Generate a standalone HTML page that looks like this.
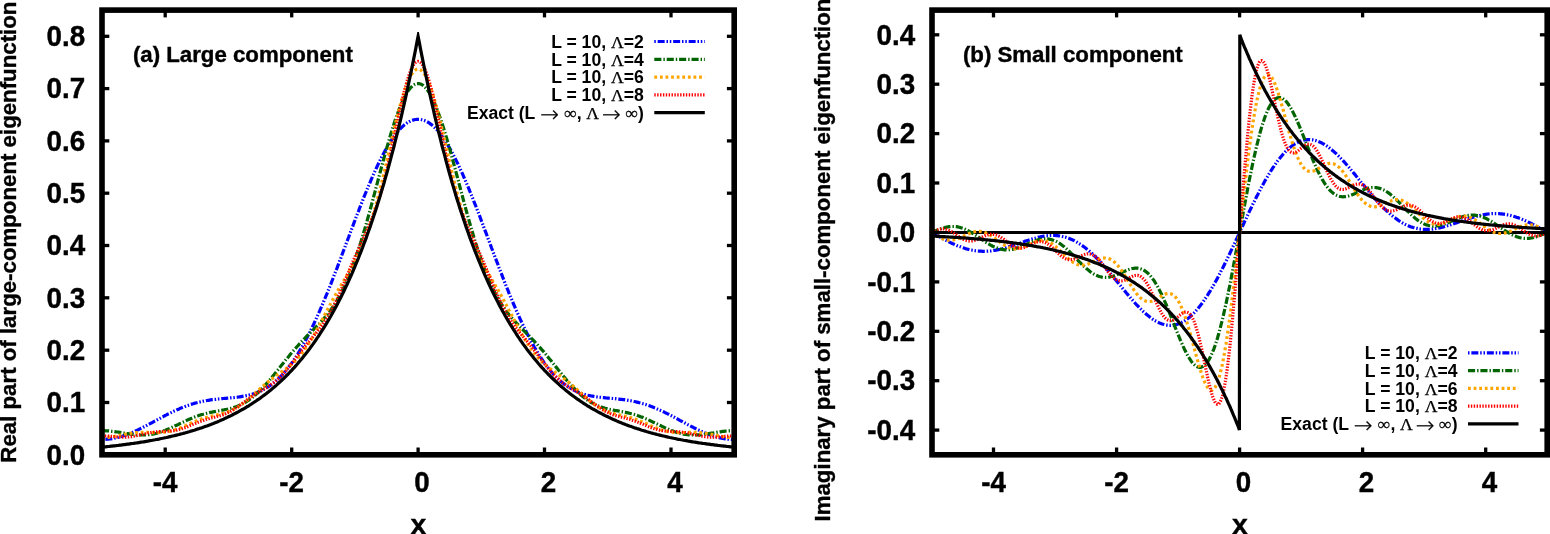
<!DOCTYPE html>
<html lang="en"><head><meta charset="utf-8"><title>Eigenfunctions</title>
<style>
html,body{margin:0;padding:0;background:#fff;}
body{width:1550px;height:534px;overflow:hidden;}
svg{display:block;}
text{font-family:"Liberation Sans",sans-serif;font-weight:bold;fill:#000;}
.sym{font-family:"Liberation Serif",serif;font-weight:normal;stroke:#000;stroke-width:0.25px;}
.tk{font-size:27.8px;stroke:#000;stroke-width:0.4px;}
.lg{font-size:17.6px;}
.tt{font-size:22.24px;stroke:#000;stroke-width:0.4px;}
.yl{font-size:22.25px;stroke:#000;stroke-width:0.35px;}
.xl{font-size:28.4px;stroke:#000;stroke-width:0.4px;}
.ar{font-family:"DejaVu Sans",sans-serif;font-weight:200;font-size:22.5px;stroke:#000;stroke-width:0.3px;}
.lam{font-size:17.6px;}
</style></head><body>
<svg width="1550" height="534" viewBox="0 0 1550 534">
<rect width="1550" height="534" fill="#fff"/>

<defs><clipPath id="clip_a"><rect x="102.0" y="10.1" width="632.2" height="444.7"/></clipPath></defs>
<g clip-path="url(#clip_a)" fill="none" stroke-width="3.2" stroke-linejoin="round">
<polyline stroke="#0000ff" stroke-dasharray="1.5 1.85 7 1.85 1.5 1.8" points="102.0,439.4 103.3,439.4 104.5,439.4 105.8,439.3 107.1,439.2 108.3,439.1 109.6,438.9 110.9,438.8 112.1,438.6 113.4,438.4 114.6,438.1 115.9,437.9 117.2,437.6 118.4,437.3 119.7,436.9 121.0,436.6 122.2,436.2 123.5,435.8 124.8,435.4 126.0,434.9 127.3,434.5 128.6,434.0 129.8,433.5 131.1,433.0 132.3,432.4 133.6,431.9 134.9,431.3 136.1,430.7 137.4,430.1 138.7,429.5 139.9,428.9 141.2,428.3 142.5,427.7 143.7,427.0 145.0,426.4 146.3,425.7 147.5,425.0 148.8,424.4 150.0,423.7 151.3,423.0 152.6,422.3 153.8,421.6 155.1,421.0 156.4,420.3 157.6,419.6 158.9,418.9 160.2,418.2 161.4,417.5 162.7,416.9 164.0,416.2 165.2,415.5 166.5,414.9 167.7,414.2 169.0,413.6 170.3,413.0 171.5,412.4 172.8,411.7 174.1,411.1 175.3,410.6 176.6,410.0 177.9,409.4 179.1,408.9 180.4,408.3 181.7,407.8 182.9,407.3 184.2,406.8 185.5,406.3 186.7,405.8 188.0,405.4 189.2,405.0 190.5,404.5 191.8,404.1 193.0,403.8 194.3,403.4 195.6,403.0 196.8,402.7 198.1,402.4 199.4,402.1 200.6,401.8 201.9,401.5 203.2,401.2 204.4,401.0 205.7,400.7 206.9,400.5 208.2,400.3 209.5,400.1 210.7,399.9 212.0,399.7 213.3,399.6 214.5,399.4 215.8,399.3 217.1,399.1 218.3,399.0 219.6,398.9 220.9,398.7 222.1,398.6 223.4,398.5 224.6,398.4 225.9,398.3 227.2,398.2 228.4,398.1 229.7,398.0 231.0,397.8 232.2,397.7 233.5,397.6 234.8,397.5 236.0,397.3 237.3,397.2 238.6,397.0 239.8,396.8 241.1,396.6 242.3,396.4 243.6,396.2 244.9,396.0 246.1,395.7 247.4,395.5 248.7,395.2 249.9,394.8 251.2,394.5 252.5,394.1 253.7,393.7 255.0,393.3 256.3,392.8 257.5,392.3 258.8,391.8 260.1,391.3 261.3,390.7 262.6,390.0 263.8,389.4 265.1,388.7 266.4,387.9 267.6,387.1 268.9,386.3 270.2,385.4 271.4,384.5 272.7,383.5 274.0,382.5 275.2,381.5 276.5,380.4 277.8,379.2 279.0,378.0 280.3,376.8 281.5,375.5 282.8,374.1 284.1,372.7 285.3,371.2 286.6,369.7 287.9,368.1 289.1,366.5 290.4,364.8 291.7,363.1 292.9,361.3 294.2,359.4 295.5,357.5 296.7,355.6 298.0,353.6 299.2,351.5 300.5,349.4 301.8,347.2 303.0,345.0 304.3,342.7 305.6,340.4 306.8,338.0 308.1,335.5 309.4,333.0 310.6,330.5 311.9,327.9 313.2,325.3 314.4,322.6 315.7,319.8 316.9,317.1 318.2,314.2 319.5,311.4 320.7,308.5 322.0,305.5 323.3,302.5 324.5,299.5 325.8,296.4 327.1,293.3 328.3,290.2 329.6,287.1 330.9,283.9 332.1,280.7 333.4,277.4 334.6,274.1 335.9,270.9 337.2,267.6 338.4,264.2 339.7,260.9 341.0,257.6 342.2,254.2 343.5,250.8 344.8,247.5 346.0,244.1 347.3,240.7 348.6,237.3 349.8,233.9 351.1,230.6 352.4,227.2 353.6,223.9 354.9,220.5 356.1,217.2 357.4,213.9 358.7,210.6 359.9,207.3 361.2,204.1 362.5,200.9 363.7,197.7 365.0,194.5 366.3,191.4 367.5,188.3 368.8,185.3 370.1,182.3 371.3,179.4 372.6,176.5 373.8,173.6 375.1,170.8 376.4,168.0 377.6,165.4 378.9,162.7 380.2,160.1 381.4,157.6 382.7,155.2 384.0,152.8 385.2,150.5 386.5,148.2 387.8,146.1 389.0,144.0 390.3,141.9 391.5,140.0 392.8,138.1 394.1,136.3 395.3,134.6 396.6,133.0 397.9,131.5 399.1,130.0 400.4,128.7 401.7,127.4 402.9,126.2 404.2,125.1 405.5,124.1 406.7,123.2 408.0,122.4 409.2,121.7 410.5,121.1 411.8,120.5 413.0,120.1 414.3,119.8 415.6,119.5 416.8,119.4 418.1,119.3 419.4,119.4 420.6,119.5 421.9,119.8 423.2,120.1 424.4,120.5 425.7,121.1 427.0,121.7 428.2,122.4 429.5,123.2 430.7,124.1 432.0,125.1 433.3,126.2 434.5,127.4 435.8,128.7 437.1,130.0 438.3,131.5 439.6,133.0 440.9,134.6 442.1,136.3 443.4,138.1 444.7,140.0 445.9,141.9 447.2,144.0 448.4,146.1 449.7,148.2 451.0,150.5 452.2,152.8 453.5,155.2 454.8,157.6 456.0,160.1 457.3,162.7 458.6,165.4 459.8,168.0 461.1,170.8 462.4,173.6 463.6,176.5 464.9,179.4 466.1,182.3 467.4,185.3 468.7,188.3 469.9,191.4 471.2,194.5 472.5,197.7 473.7,200.9 475.0,204.1 476.3,207.3 477.5,210.6 478.8,213.9 480.1,217.2 481.3,220.5 482.6,223.9 483.8,227.2 485.1,230.6 486.4,233.9 487.6,237.3 488.9,240.7 490.2,244.1 491.4,247.5 492.7,250.8 494.0,254.2 495.2,257.6 496.5,260.9 497.8,264.2 499.0,267.6 500.3,270.9 501.6,274.1 502.8,277.4 504.1,280.7 505.3,283.9 506.6,287.1 507.9,290.2 509.1,293.3 510.4,296.4 511.7,299.5 512.9,302.5 514.2,305.5 515.5,308.5 516.7,311.4 518.0,314.2 519.3,317.1 520.5,319.8 521.8,322.6 523.0,325.3 524.3,327.9 525.6,330.5 526.8,333.0 528.1,335.5 529.4,338.0 530.6,340.4 531.9,342.7 533.2,345.0 534.4,347.2 535.7,349.4 537.0,351.5 538.2,353.6 539.5,355.6 540.7,357.5 542.0,359.4 543.3,361.3 544.5,363.1 545.8,364.8 547.1,366.5 548.3,368.1 549.6,369.7 550.9,371.2 552.1,372.7 553.4,374.1 554.7,375.5 555.9,376.8 557.2,378.0 558.4,379.2 559.7,380.4 561.0,381.5 562.2,382.5 563.5,383.5 564.8,384.5 566.0,385.4 567.3,386.3 568.6,387.1 569.8,387.9 571.1,388.7 572.4,389.4 573.6,390.0 574.9,390.7 576.2,391.3 577.4,391.8 578.7,392.3 579.9,392.8 581.2,393.3 582.5,393.7 583.7,394.1 585.0,394.5 586.3,394.8 587.5,395.2 588.8,395.5 590.1,395.7 591.3,396.0 592.6,396.2 593.9,396.4 595.1,396.6 596.4,396.8 597.6,397.0 598.9,397.2 600.2,397.3 601.4,397.5 602.7,397.6 604.0,397.7 605.2,397.8 606.5,398.0 607.8,398.1 609.0,398.2 610.3,398.3 611.6,398.4 612.8,398.5 614.1,398.6 615.3,398.7 616.6,398.9 617.9,399.0 619.1,399.1 620.4,399.3 621.7,399.4 622.9,399.6 624.2,399.7 625.5,399.9 626.7,400.1 628.0,400.3 629.3,400.5 630.5,400.7 631.8,401.0 633.0,401.2 634.3,401.5 635.6,401.8 636.8,402.1 638.1,402.4 639.4,402.7 640.6,403.0 641.9,403.4 643.2,403.8 644.4,404.1 645.7,404.5 647.0,405.0 648.2,405.4 649.5,405.8 650.7,406.3 652.0,406.8 653.3,407.3 654.5,407.8 655.8,408.3 657.1,408.9 658.3,409.4 659.6,410.0 660.9,410.6 662.1,411.1 663.4,411.7 664.7,412.4 665.9,413.0 667.2,413.6 668.5,414.2 669.7,414.9 671.0,415.5 672.2,416.2 673.5,416.9 674.8,417.5 676.0,418.2 677.3,418.9 678.6,419.6 679.8,420.3 681.1,421.0 682.4,421.6 683.6,422.3 684.9,423.0 686.2,423.7 687.4,424.4 688.7,425.0 689.9,425.7 691.2,426.4 692.5,427.0 693.7,427.7 695.0,428.3 696.3,428.9 697.5,429.5 698.8,430.1 700.1,430.7 701.3,431.3 702.6,431.9 703.9,432.4 705.1,433.0 706.4,433.5 707.6,434.0 708.9,434.5 710.2,434.9 711.4,435.4 712.7,435.8 714.0,436.2 715.2,436.6 716.5,436.9 717.8,437.3 719.0,437.6 720.3,437.9 721.6,438.1 722.8,438.4 724.1,438.6 725.3,438.8 726.6,438.9 727.9,439.1 729.1,439.2 730.4,439.3 731.7,439.4 732.9,439.4 734.2,439.4"/>
<polyline stroke="#006400" stroke-dasharray="7.1 2 1.4 1.9" points="102.0,430.7 103.3,430.7 104.5,430.7 105.8,430.8 107.1,430.8 108.3,430.9 109.6,431.0 110.9,431.1 112.1,431.3 113.4,431.4 114.6,431.6 115.9,431.8 117.2,432.0 118.4,432.1 119.7,432.3 121.0,432.6 122.2,432.8 123.5,433.0 124.8,433.2 126.0,433.4 127.3,433.6 128.6,433.8 129.8,434.0 131.1,434.2 132.3,434.3 133.6,434.5 134.9,434.6 136.1,434.8 137.4,434.9 138.7,434.9 139.9,435.0 141.2,435.0 142.5,435.0 143.7,435.0 145.0,435.0 146.3,434.9 147.5,434.8 148.8,434.7 150.0,434.5 151.3,434.3 152.6,434.1 153.8,433.9 155.1,433.6 156.4,433.3 157.6,432.9 158.9,432.6 160.2,432.2 161.4,431.8 162.7,431.3 164.0,430.8 165.2,430.4 166.5,429.8 167.7,429.3 169.0,428.8 170.3,428.2 171.5,427.6 172.8,427.0 174.1,426.4 175.3,425.8 176.6,425.2 177.9,424.6 179.1,424.0 180.4,423.4 181.7,422.8 182.9,422.2 184.2,421.6 185.5,421.0 186.7,420.4 188.0,419.8 189.2,419.2 190.5,418.7 191.8,418.2 193.0,417.6 194.3,417.1 195.6,416.7 196.8,416.2 198.1,415.8 199.4,415.3 200.6,414.9 201.9,414.5 203.2,414.2 204.4,413.8 205.7,413.5 206.9,413.2 208.2,412.9 209.5,412.6 210.7,412.3 212.0,412.1 213.3,411.8 214.5,411.6 215.8,411.4 217.1,411.1 218.3,410.9 219.6,410.7 220.9,410.5 222.1,410.2 223.4,410.0 224.6,409.7 225.9,409.5 227.2,409.2 228.4,408.9 229.7,408.6 231.0,408.3 232.2,407.9 233.5,407.5 234.8,407.1 236.0,406.7 237.3,406.2 238.6,405.7 239.8,405.1 241.1,404.5 242.3,403.9 243.6,403.2 244.9,402.5 246.1,401.8 247.4,401.0 248.7,400.1 249.9,399.2 251.2,398.3 252.5,397.3 253.7,396.3 255.0,395.2 256.3,394.1 257.5,393.0 258.8,391.8 260.1,390.5 261.3,389.2 262.6,387.9 263.8,386.6 265.1,385.2 266.4,383.8 267.6,382.3 268.9,380.9 270.2,379.4 271.4,377.8 272.7,376.3 274.0,374.8 275.2,373.2 276.5,371.6 277.8,370.0 279.0,368.4 280.3,366.9 281.5,365.3 282.8,363.7 284.1,362.1 285.3,360.5 286.6,359.0 287.9,357.4 289.1,355.9 290.4,354.3 291.7,352.8 292.9,351.3 294.2,349.9 295.5,348.4 296.7,347.0 298.0,345.6 299.2,344.2 300.5,342.8 301.8,341.4 303.0,340.1 304.3,338.8 305.6,337.5 306.8,336.2 308.1,334.9 309.4,333.6 310.6,332.4 311.9,331.1 313.2,329.8 314.4,328.6 315.7,327.3 316.9,326.0 318.2,324.7 319.5,323.4 320.7,322.0 322.0,320.7 323.3,319.3 324.5,317.8 325.8,316.3 327.1,314.8 328.3,313.2 329.6,311.5 330.9,309.8 332.1,308.0 333.4,306.2 334.6,304.3 335.9,302.3 337.2,300.2 338.4,298.0 339.7,295.7 341.0,293.3 342.2,290.9 343.5,288.3 344.8,285.6 346.0,282.8 347.3,279.9 348.6,276.9 349.8,273.8 351.1,270.6 352.4,267.2 353.6,263.8 354.9,260.2 356.1,256.6 357.4,252.8 358.7,248.9 359.9,245.0 361.2,240.9 362.5,236.7 363.7,232.5 365.0,228.2 366.3,223.8 367.5,219.3 368.8,214.7 370.1,210.1 371.3,205.5 372.6,200.8 373.8,196.1 375.1,191.3 376.4,186.5 377.6,181.8 378.9,177.0 380.2,172.2 381.4,167.5 382.7,162.8 384.0,158.1 385.2,153.5 386.5,149.0 387.8,144.5 389.0,140.1 390.3,135.8 391.5,131.7 392.8,127.6 394.1,123.6 395.3,119.8 396.6,116.2 397.9,112.7 399.1,109.3 400.4,106.1 401.7,103.2 402.9,100.3 404.2,97.7 405.5,95.3 406.7,93.1 408.0,91.2 409.2,89.4 410.5,87.9 411.8,86.6 413.0,85.5 414.3,84.6 415.6,84.0 416.8,83.7 418.1,83.6 419.4,83.7 420.6,84.0 421.9,84.6 423.2,85.5 424.4,86.6 425.7,87.9 427.0,89.4 428.2,91.2 429.5,93.1 430.7,95.3 432.0,97.7 433.3,100.3 434.5,103.2 435.8,106.1 437.1,109.3 438.3,112.7 439.6,116.2 440.9,119.8 442.1,123.6 443.4,127.6 444.7,131.7 445.9,135.8 447.2,140.1 448.4,144.5 449.7,149.0 451.0,153.5 452.2,158.1 453.5,162.8 454.8,167.5 456.0,172.2 457.3,177.0 458.6,181.8 459.8,186.5 461.1,191.3 462.4,196.1 463.6,200.8 464.9,205.5 466.1,210.1 467.4,214.7 468.7,219.3 469.9,223.8 471.2,228.2 472.5,232.5 473.7,236.7 475.0,240.9 476.3,245.0 477.5,248.9 478.8,252.8 480.1,256.6 481.3,260.2 482.6,263.8 483.8,267.2 485.1,270.6 486.4,273.8 487.6,276.9 488.9,279.9 490.2,282.8 491.4,285.6 492.7,288.3 494.0,290.9 495.2,293.3 496.5,295.7 497.8,298.0 499.0,300.2 500.3,302.3 501.6,304.3 502.8,306.2 504.1,308.0 505.3,309.8 506.6,311.5 507.9,313.2 509.1,314.8 510.4,316.3 511.7,317.8 512.9,319.3 514.2,320.7 515.5,322.0 516.7,323.4 518.0,324.7 519.3,326.0 520.5,327.3 521.8,328.6 523.0,329.8 524.3,331.1 525.6,332.4 526.8,333.6 528.1,334.9 529.4,336.2 530.6,337.5 531.9,338.8 533.2,340.1 534.4,341.4 535.7,342.8 537.0,344.2 538.2,345.6 539.5,347.0 540.7,348.4 542.0,349.9 543.3,351.3 544.5,352.8 545.8,354.3 547.1,355.9 548.3,357.4 549.6,359.0 550.9,360.5 552.1,362.1 553.4,363.7 554.7,365.3 555.9,366.9 557.2,368.4 558.4,370.0 559.7,371.6 561.0,373.2 562.2,374.8 563.5,376.3 564.8,377.8 566.0,379.4 567.3,380.9 568.6,382.3 569.8,383.8 571.1,385.2 572.4,386.6 573.6,387.9 574.9,389.2 576.2,390.5 577.4,391.8 578.7,393.0 579.9,394.1 581.2,395.2 582.5,396.3 583.7,397.3 585.0,398.3 586.3,399.2 587.5,400.1 588.8,401.0 590.1,401.8 591.3,402.5 592.6,403.2 593.9,403.9 595.1,404.5 596.4,405.1 597.6,405.7 598.9,406.2 600.2,406.7 601.4,407.1 602.7,407.5 604.0,407.9 605.2,408.3 606.5,408.6 607.8,408.9 609.0,409.2 610.3,409.5 611.6,409.7 612.8,410.0 614.1,410.2 615.3,410.5 616.6,410.7 617.9,410.9 619.1,411.1 620.4,411.4 621.7,411.6 622.9,411.8 624.2,412.1 625.5,412.3 626.7,412.6 628.0,412.9 629.3,413.2 630.5,413.5 631.8,413.8 633.0,414.2 634.3,414.5 635.6,414.9 636.8,415.3 638.1,415.8 639.4,416.2 640.6,416.7 641.9,417.1 643.2,417.6 644.4,418.2 645.7,418.7 647.0,419.2 648.2,419.8 649.5,420.4 650.7,421.0 652.0,421.6 653.3,422.2 654.5,422.8 655.8,423.4 657.1,424.0 658.3,424.6 659.6,425.2 660.9,425.8 662.1,426.4 663.4,427.0 664.7,427.6 665.9,428.2 667.2,428.8 668.5,429.3 669.7,429.8 671.0,430.4 672.2,430.8 673.5,431.3 674.8,431.8 676.0,432.2 677.3,432.6 678.6,432.9 679.8,433.3 681.1,433.6 682.4,433.9 683.6,434.1 684.9,434.3 686.2,434.5 687.4,434.7 688.7,434.8 689.9,434.9 691.2,435.0 692.5,435.0 693.7,435.0 695.0,435.0 696.3,435.0 697.5,434.9 698.8,434.9 700.1,434.8 701.3,434.6 702.6,434.5 703.9,434.3 705.1,434.2 706.4,434.0 707.6,433.8 708.9,433.6 710.2,433.4 711.4,433.2 712.7,433.0 714.0,432.8 715.2,432.6 716.5,432.3 717.8,432.1 719.0,432.0 720.3,431.8 721.6,431.6 722.8,431.4 724.1,431.3 725.3,431.1 726.6,431.0 727.9,430.9 729.1,430.8 730.4,430.8 731.7,430.7 732.9,430.7 734.2,430.7"/>
<polyline stroke="#ffa500" stroke-dasharray="2.8 2.8" points="102.0,437.8 103.3,437.7 104.5,437.7 105.8,437.6 107.1,437.5 108.3,437.4 109.6,437.2 110.9,437.1 112.1,436.9 113.4,436.7 114.6,436.4 115.9,436.2 117.2,435.9 118.4,435.7 119.7,435.4 121.0,435.1 122.2,434.8 123.5,434.6 124.8,434.3 126.0,434.1 127.3,433.8 128.6,433.6 129.8,433.4 131.1,433.2 132.3,433.0 133.6,432.9 134.9,432.8 136.1,432.6 137.4,432.6 138.7,432.5 139.9,432.4 141.2,432.4 142.5,432.4 143.7,432.4 145.0,432.4 146.3,432.4 147.5,432.4 148.8,432.5 150.0,432.5 151.3,432.6 152.6,432.6 153.8,432.6 155.1,432.6 156.4,432.6 157.6,432.6 158.9,432.6 160.2,432.5 161.4,432.5 162.7,432.4 164.0,432.2 165.2,432.1 166.5,431.9 167.7,431.7 169.0,431.4 170.3,431.1 171.5,430.8 172.8,430.5 174.1,430.1 175.3,429.7 176.6,429.2 177.9,428.8 179.1,428.3 180.4,427.8 181.7,427.3 182.9,426.7 184.2,426.2 185.5,425.6 186.7,425.0 188.0,424.5 189.2,423.9 190.5,423.3 191.8,422.8 193.0,422.2 194.3,421.7 195.6,421.2 196.8,420.6 198.1,420.2 199.4,419.7 200.6,419.2 201.9,418.8 203.2,418.4 204.4,418.0 205.7,417.6 206.9,417.3 208.2,416.9 209.5,416.6 210.7,416.3 212.0,416.0 213.3,415.7 214.5,415.4 215.8,415.1 217.1,414.9 218.3,414.6 219.6,414.3 220.9,414.0 222.1,413.6 223.4,413.3 224.6,412.9 225.9,412.5 227.2,412.1 228.4,411.6 229.7,411.1 231.0,410.6 232.2,410.0 233.5,409.4 234.8,408.8 236.0,408.1 237.3,407.3 238.6,406.5 239.8,405.7 241.1,404.9 242.3,403.9 243.6,403.0 244.9,402.0 246.1,401.0 247.4,400.0 248.7,398.9 249.9,397.8 251.2,396.7 252.5,395.6 253.7,394.4 255.0,393.3 256.3,392.2 257.5,391.0 258.8,389.9 260.1,388.7 261.3,387.6 262.6,386.5 263.8,385.4 265.1,384.3 266.4,383.3 267.6,382.2 268.9,381.2 270.2,380.2 271.4,379.2 272.7,378.3 274.0,377.3 275.2,376.4 276.5,375.5 277.8,374.6 279.0,373.7 280.3,372.8 281.5,371.9 282.8,371.0 284.1,370.1 285.3,369.2 286.6,368.2 287.9,367.2 289.1,366.2 290.4,365.2 291.7,364.1 292.9,363.0 294.2,361.8 295.5,360.5 296.7,359.2 298.0,357.9 299.2,356.5 300.5,355.0 301.8,353.4 303.0,351.8 304.3,350.1 305.6,348.3 306.8,346.5 308.1,344.6 309.4,342.6 310.6,340.6 311.9,338.5 313.2,336.3 314.4,334.1 315.7,331.9 316.9,329.6 318.2,327.2 319.5,324.9 320.7,322.5 322.0,320.1 323.3,317.7 324.5,315.3 325.8,312.9 327.1,310.5 328.3,308.1 329.6,305.7 330.9,303.3 332.1,301.0 333.4,298.6 334.6,296.4 335.9,294.1 337.2,291.8 338.4,289.6 339.7,287.4 341.0,285.2 342.2,283.1 343.5,281.0 344.8,278.8 346.0,276.7 347.3,274.6 348.6,272.4 349.8,270.2 351.1,268.0 352.4,265.8 353.6,263.5 354.9,261.2 356.1,258.7 357.4,256.2 358.7,253.6 359.9,251.0 361.2,248.1 362.5,245.2 363.7,242.2 365.0,239.0 366.3,235.7 367.5,232.2 368.8,228.6 370.1,224.8 371.3,220.8 372.6,216.7 373.8,212.4 375.1,208.0 376.4,203.4 377.6,198.7 378.9,193.9 380.2,188.9 381.4,183.8 382.7,178.6 384.0,173.2 385.2,167.9 386.5,162.4 387.8,156.9 389.0,151.4 390.3,145.9 391.5,140.4 392.8,135.0 394.1,129.6 395.3,124.3 396.6,119.1 397.9,114.1 399.1,109.2 400.4,104.5 401.7,100.0 402.9,95.7 404.2,91.7 405.5,88.0 406.7,84.5 408.0,81.4 409.2,78.6 410.5,76.1 411.8,74.0 413.0,72.3 414.3,70.9 415.6,69.9 416.8,69.3 418.1,69.1 419.4,69.3 420.6,69.9 421.9,70.9 423.2,72.3 424.4,74.0 425.7,76.1 427.0,78.6 428.2,81.4 429.5,84.5 430.7,88.0 432.0,91.7 433.3,95.7 434.5,100.0 435.8,104.5 437.1,109.2 438.3,114.1 439.6,119.1 440.9,124.3 442.1,129.6 443.4,135.0 444.7,140.4 445.9,145.9 447.2,151.4 448.4,156.9 449.7,162.4 451.0,167.9 452.2,173.2 453.5,178.6 454.8,183.8 456.0,188.9 457.3,193.9 458.6,198.7 459.8,203.4 461.1,208.0 462.4,212.4 463.6,216.7 464.9,220.8 466.1,224.8 467.4,228.6 468.7,232.2 469.9,235.7 471.2,239.0 472.5,242.2 473.7,245.2 475.0,248.1 476.3,251.0 477.5,253.6 478.8,256.2 480.1,258.7 481.3,261.2 482.6,263.5 483.8,265.8 485.1,268.0 486.4,270.2 487.6,272.4 488.9,274.6 490.2,276.7 491.4,278.8 492.7,281.0 494.0,283.1 495.2,285.2 496.5,287.4 497.8,289.6 499.0,291.8 500.3,294.1 501.6,296.4 502.8,298.6 504.1,301.0 505.3,303.3 506.6,305.7 507.9,308.1 509.1,310.5 510.4,312.9 511.7,315.3 512.9,317.7 514.2,320.1 515.5,322.5 516.7,324.9 518.0,327.2 519.3,329.6 520.5,331.9 521.8,334.1 523.0,336.3 524.3,338.5 525.6,340.6 526.8,342.6 528.1,344.6 529.4,346.5 530.6,348.3 531.9,350.1 533.2,351.8 534.4,353.4 535.7,355.0 537.0,356.5 538.2,357.9 539.5,359.2 540.7,360.5 542.0,361.8 543.3,363.0 544.5,364.1 545.8,365.2 547.1,366.2 548.3,367.2 549.6,368.2 550.9,369.2 552.1,370.1 553.4,371.0 554.7,371.9 555.9,372.8 557.2,373.7 558.4,374.6 559.7,375.5 561.0,376.4 562.2,377.3 563.5,378.3 564.8,379.2 566.0,380.2 567.3,381.2 568.6,382.2 569.8,383.3 571.1,384.3 572.4,385.4 573.6,386.5 574.9,387.6 576.2,388.7 577.4,389.9 578.7,391.0 579.9,392.2 581.2,393.3 582.5,394.4 583.7,395.6 585.0,396.7 586.3,397.8 587.5,398.9 588.8,400.0 590.1,401.0 591.3,402.0 592.6,403.0 593.9,403.9 595.1,404.9 596.4,405.7 597.6,406.5 598.9,407.3 600.2,408.1 601.4,408.8 602.7,409.4 604.0,410.0 605.2,410.6 606.5,411.1 607.8,411.6 609.0,412.1 610.3,412.5 611.6,412.9 612.8,413.3 614.1,413.6 615.3,414.0 616.6,414.3 617.9,414.6 619.1,414.9 620.4,415.1 621.7,415.4 622.9,415.7 624.2,416.0 625.5,416.3 626.7,416.6 628.0,416.9 629.3,417.3 630.5,417.6 631.8,418.0 633.0,418.4 634.3,418.8 635.6,419.2 636.8,419.7 638.1,420.2 639.4,420.6 640.6,421.2 641.9,421.7 643.2,422.2 644.4,422.8 645.7,423.3 647.0,423.9 648.2,424.5 649.5,425.0 650.7,425.6 652.0,426.2 653.3,426.7 654.5,427.3 655.8,427.8 657.1,428.3 658.3,428.8 659.6,429.2 660.9,429.7 662.1,430.1 663.4,430.5 664.7,430.8 665.9,431.1 667.2,431.4 668.5,431.7 669.7,431.9 671.0,432.1 672.2,432.2 673.5,432.4 674.8,432.5 676.0,432.5 677.3,432.6 678.6,432.6 679.8,432.6 681.1,432.6 682.4,432.6 683.6,432.6 684.9,432.6 686.2,432.5 687.4,432.5 688.7,432.4 689.9,432.4 691.2,432.4 692.5,432.4 693.7,432.4 695.0,432.4 696.3,432.4 697.5,432.5 698.8,432.6 700.1,432.6 701.3,432.8 702.6,432.9 703.9,433.0 705.1,433.2 706.4,433.4 707.6,433.6 708.9,433.8 710.2,434.1 711.4,434.3 712.7,434.6 714.0,434.8 715.2,435.1 716.5,435.4 717.8,435.7 719.0,435.9 720.3,436.2 721.6,436.4 722.8,436.7 724.1,436.9 725.3,437.1 726.6,437.2 727.9,437.4 729.1,437.5 730.4,437.6 731.7,437.7 732.9,437.7 734.2,437.8"/>
<polyline stroke="#ff0000" stroke-dasharray="1.4 1.47" points="102.0,435.9 103.3,435.9 104.5,435.9 105.8,436.0 107.1,436.0 108.3,436.1 109.6,436.2 110.9,436.3 112.1,436.4 113.4,436.6 114.6,436.7 115.9,436.8 117.2,436.9 118.4,437.0 119.7,437.1 121.0,437.2 122.2,437.2 123.5,437.2 124.8,437.2 126.0,437.2 127.3,437.1 128.6,437.0 129.8,436.8 131.1,436.7 132.3,436.5 133.6,436.3 134.9,436.0 136.1,435.8 137.4,435.5 138.7,435.2 139.9,434.9 141.2,434.6 142.5,434.3 143.7,434.0 145.0,433.8 146.3,433.5 147.5,433.2 148.8,433.0 150.0,432.7 151.3,432.5 152.6,432.3 153.8,432.2 155.1,432.0 156.4,431.9 157.6,431.8 158.9,431.7 160.2,431.6 161.4,431.5 162.7,431.5 164.0,431.4 165.2,431.4 166.5,431.3 167.7,431.2 169.0,431.1 170.3,431.0 171.5,430.9 172.8,430.7 174.1,430.6 175.3,430.3 176.6,430.1 177.9,429.8 179.1,429.5 180.4,429.2 181.7,428.8 182.9,428.4 184.2,427.9 185.5,427.5 186.7,427.0 188.0,426.5 189.2,426.0 190.5,425.4 191.8,424.9 193.0,424.3 194.3,423.8 195.6,423.3 196.8,422.7 198.1,422.2 199.4,421.7 200.6,421.3 201.9,420.8 203.2,420.4 204.4,419.9 205.7,419.5 206.9,419.2 208.2,418.8 209.5,418.5 210.7,418.1 212.0,417.8 213.3,417.5 214.5,417.2 215.8,416.9 217.1,416.5 218.3,416.2 219.6,415.8 220.9,415.4 222.1,415.0 223.4,414.6 224.6,414.1 225.9,413.6 227.2,413.0 228.4,412.4 229.7,411.8 231.0,411.1 232.2,410.4 233.5,409.6 234.8,408.8 236.0,408.0 237.3,407.2 238.6,406.3 239.8,405.4 241.1,404.4 242.3,403.5 243.6,402.5 244.9,401.6 246.1,400.7 247.4,399.7 248.7,398.8 249.9,397.9 251.2,397.0 252.5,396.1 253.7,395.3 255.0,394.4 256.3,393.6 257.5,392.8 258.8,392.0 260.1,391.3 261.3,390.5 262.6,389.8 263.8,389.1 265.1,388.3 266.4,387.6 267.6,386.8 268.9,386.0 270.2,385.2 271.4,384.3 272.7,383.4 274.0,382.5 275.2,381.5 276.5,380.4 277.8,379.3 279.0,378.2 280.3,377.0 281.5,375.7 282.8,374.4 284.1,373.0 285.3,371.6 286.6,370.1 287.9,368.5 289.1,367.0 290.4,365.4 291.7,363.7 292.9,362.1 294.2,360.4 295.5,358.7 296.7,357.0 298.0,355.4 299.2,353.7 300.5,352.0 301.8,350.4 303.0,348.8 304.3,347.2 305.6,345.6 306.8,344.1 308.1,342.5 309.4,341.0 310.6,339.5 311.9,338.0 313.2,336.5 314.4,335.0 315.7,333.5 316.9,332.0 318.2,330.5 319.5,328.9 320.7,327.2 322.0,325.5 323.3,323.8 324.5,321.9 325.8,320.0 327.1,318.0 328.3,316.0 329.6,313.8 330.9,311.5 332.1,309.2 333.4,306.7 334.6,304.2 335.9,301.5 337.2,298.8 338.4,296.0 339.7,293.2 341.0,290.2 342.2,287.3 343.5,284.3 344.8,281.2 346.0,278.2 347.3,275.1 348.6,272.1 349.8,269.0 351.1,266.0 352.4,263.0 353.6,260.0 354.9,257.0 356.1,254.1 357.4,251.3 358.7,248.4 359.9,245.6 361.2,242.9 362.5,240.1 363.7,237.3 365.0,234.6 366.3,231.8 367.5,228.9 368.8,226.1 370.1,223.1 371.3,220.1 372.6,216.9 373.8,213.6 375.1,210.2 376.4,206.7 377.6,202.9 378.9,199.0 380.2,194.9 381.4,190.6 382.7,186.1 384.0,181.4 385.2,176.4 386.5,171.3 387.8,166.0 389.0,160.6 390.3,155.0 391.5,149.2 392.8,143.4 394.1,137.4 395.3,131.5 396.6,125.5 397.9,119.6 399.1,113.7 400.4,108.0 401.7,102.4 402.9,97.0 404.2,91.8 405.5,87.0 406.7,82.4 408.0,78.2 409.2,74.4 410.5,71.1 411.8,68.2 413.0,65.8 414.3,63.9 415.6,62.5 416.8,61.7 418.1,61.4 419.4,61.7 420.6,62.5 421.9,63.9 423.2,65.8 424.4,68.2 425.7,71.1 427.0,74.4 428.2,78.2 429.5,82.4 430.7,87.0 432.0,91.8 433.3,97.0 434.5,102.4 435.8,108.0 437.1,113.7 438.3,119.6 439.6,125.5 440.9,131.5 442.1,137.4 443.4,143.4 444.7,149.2 445.9,155.0 447.2,160.6 448.4,166.0 449.7,171.3 451.0,176.4 452.2,181.4 453.5,186.1 454.8,190.6 456.0,194.9 457.3,199.0 458.6,202.9 459.8,206.7 461.1,210.2 462.4,213.6 463.6,216.9 464.9,220.1 466.1,223.1 467.4,226.1 468.7,228.9 469.9,231.8 471.2,234.6 472.5,237.3 473.7,240.1 475.0,242.9 476.3,245.6 477.5,248.4 478.8,251.3 480.1,254.1 481.3,257.0 482.6,260.0 483.8,263.0 485.1,266.0 486.4,269.0 487.6,272.1 488.9,275.1 490.2,278.2 491.4,281.2 492.7,284.3 494.0,287.3 495.2,290.2 496.5,293.2 497.8,296.0 499.0,298.8 500.3,301.5 501.6,304.2 502.8,306.7 504.1,309.2 505.3,311.5 506.6,313.8 507.9,316.0 509.1,318.0 510.4,320.0 511.7,321.9 512.9,323.8 514.2,325.5 515.5,327.2 516.7,328.9 518.0,330.5 519.3,332.0 520.5,333.5 521.8,335.0 523.0,336.5 524.3,338.0 525.6,339.5 526.8,341.0 528.1,342.5 529.4,344.1 530.6,345.6 531.9,347.2 533.2,348.8 534.4,350.4 535.7,352.0 537.0,353.7 538.2,355.4 539.5,357.0 540.7,358.7 542.0,360.4 543.3,362.1 544.5,363.7 545.8,365.4 547.1,367.0 548.3,368.5 549.6,370.1 550.9,371.6 552.1,373.0 553.4,374.4 554.7,375.7 555.9,377.0 557.2,378.2 558.4,379.3 559.7,380.4 561.0,381.5 562.2,382.5 563.5,383.4 564.8,384.3 566.0,385.2 567.3,386.0 568.6,386.8 569.8,387.6 571.1,388.3 572.4,389.1 573.6,389.8 574.9,390.5 576.2,391.3 577.4,392.0 578.7,392.8 579.9,393.6 581.2,394.4 582.5,395.3 583.7,396.1 585.0,397.0 586.3,397.9 587.5,398.8 588.8,399.7 590.1,400.7 591.3,401.6 592.6,402.5 593.9,403.5 595.1,404.4 596.4,405.4 597.6,406.3 598.9,407.2 600.2,408.0 601.4,408.8 602.7,409.6 604.0,410.4 605.2,411.1 606.5,411.8 607.8,412.4 609.0,413.0 610.3,413.6 611.6,414.1 612.8,414.6 614.1,415.0 615.3,415.4 616.6,415.8 617.9,416.2 619.1,416.5 620.4,416.9 621.7,417.2 622.9,417.5 624.2,417.8 625.5,418.1 626.7,418.5 628.0,418.8 629.3,419.2 630.5,419.5 631.8,419.9 633.0,420.4 634.3,420.8 635.6,421.3 636.8,421.7 638.1,422.2 639.4,422.7 640.6,423.3 641.9,423.8 643.2,424.3 644.4,424.9 645.7,425.4 647.0,426.0 648.2,426.5 649.5,427.0 650.7,427.5 652.0,427.9 653.3,428.4 654.5,428.8 655.8,429.2 657.1,429.5 658.3,429.8 659.6,430.1 660.9,430.3 662.1,430.6 663.4,430.7 664.7,430.9 665.9,431.0 667.2,431.1 668.5,431.2 669.7,431.3 671.0,431.4 672.2,431.4 673.5,431.5 674.8,431.5 676.0,431.6 677.3,431.7 678.6,431.8 679.8,431.9 681.1,432.0 682.4,432.2 683.6,432.3 684.9,432.5 686.2,432.7 687.4,433.0 688.7,433.2 689.9,433.5 691.2,433.8 692.5,434.0 693.7,434.3 695.0,434.6 696.3,434.9 697.5,435.2 698.8,435.5 700.1,435.8 701.3,436.0 702.6,436.3 703.9,436.5 705.1,436.7 706.4,436.8 707.6,437.0 708.9,437.1 710.2,437.2 711.4,437.2 712.7,437.2 714.0,437.2 715.2,437.2 716.5,437.1 717.8,437.0 719.0,436.9 720.3,436.8 721.6,436.7 722.8,436.6 724.1,436.4 725.3,436.3 726.6,436.2 727.9,436.1 729.1,436.0 730.4,436.0 731.7,435.9 732.9,435.9 734.2,435.9"/>
<defs><clipPath id="tip"><rect x="0" y="31.9" width="800" height="500"/></clipPath></defs>
<g clip-path="url(#tip)"><polyline stroke="#000" stroke-linejoin="miter" stroke-miterlimit="10" points="102.0,447.1 103.3,447.0 104.5,446.9 105.8,446.8 107.1,446.6 108.3,446.5 109.6,446.4 110.9,446.2 112.1,446.1 113.4,445.9 114.6,445.8 115.9,445.7 117.2,445.5 118.4,445.4 119.7,445.2 121.0,445.1 122.2,444.9 123.5,444.7 124.8,444.6 126.0,444.4 127.3,444.2 128.6,444.1 129.8,443.9 131.1,443.7 132.3,443.5 133.6,443.4 134.9,443.2 136.1,443.0 137.4,442.8 138.7,442.6 139.9,442.4 141.2,442.2 142.5,442.0 143.7,441.8 145.0,441.6 146.3,441.4 147.5,441.2 148.8,440.9 150.0,440.7 151.3,440.5 152.6,440.3 153.8,440.0 155.1,439.8 156.4,439.5 157.6,439.3 158.9,439.1 160.2,438.8 161.4,438.5 162.7,438.3 164.0,438.0 165.2,437.7 166.5,437.5 167.7,437.2 169.0,436.9 170.3,436.6 171.5,436.3 172.8,436.0 174.1,435.7 175.3,435.4 176.6,435.1 177.9,434.8 179.1,434.5 180.4,434.1 181.7,433.8 182.9,433.5 184.2,433.1 185.5,432.8 186.7,432.4 188.0,432.0 189.2,431.7 190.5,431.3 191.8,430.9 193.0,430.5 194.3,430.2 195.6,429.8 196.8,429.3 198.1,428.9 199.4,428.5 200.6,428.1 201.9,427.7 203.2,427.2 204.4,426.8 205.7,426.3 206.9,425.9 208.2,425.4 209.5,424.9 210.7,424.5 212.0,424.0 213.3,423.5 214.5,423.0 215.8,422.4 217.1,421.9 218.3,421.4 219.6,420.9 220.9,420.3 222.1,419.8 223.4,419.2 224.6,418.6 225.9,418.0 227.2,417.4 228.4,416.8 229.7,416.2 231.0,415.6 232.2,415.0 233.5,414.3 234.8,413.7 236.0,413.0 237.3,412.3 238.6,411.6 239.8,410.9 241.1,410.2 242.3,409.5 243.6,408.8 244.9,408.1 246.1,407.3 247.4,406.5 248.7,405.8 249.9,405.0 251.2,404.2 252.5,403.3 253.7,402.5 255.0,401.7 256.3,400.8 257.5,399.9 258.8,399.1 260.1,398.2 261.3,397.2 262.6,396.3 263.8,395.4 265.1,394.4 266.4,393.4 267.6,392.4 268.9,391.4 270.2,390.4 271.4,389.4 272.7,388.3 274.0,387.3 275.2,386.2 276.5,385.1 277.8,383.9 279.0,382.8 280.3,381.6 281.5,380.5 282.8,379.3 284.1,378.0 285.3,376.8 286.6,375.5 287.9,374.3 289.1,373.0 290.4,371.6 291.7,370.3 292.9,368.9 294.2,367.6 295.5,366.1 296.7,364.7 298.0,363.3 299.2,361.8 300.5,360.3 301.8,358.8 303.0,357.2 304.3,355.6 305.6,354.0 306.8,352.4 308.1,350.8 309.4,349.1 310.6,347.4 311.9,345.6 313.2,343.9 314.4,342.1 315.7,340.3 316.9,338.4 318.2,336.6 319.5,334.6 320.7,332.7 322.0,330.7 323.3,328.7 324.5,326.7 325.8,324.6 327.1,322.5 328.3,320.4 329.6,318.2 330.9,316.0 332.1,313.8 333.4,311.5 334.6,309.2 335.9,306.9 337.2,304.5 338.4,302.1 339.7,299.6 341.0,297.1 342.2,294.5 343.5,292.0 344.8,289.3 346.0,286.7 347.3,284.0 348.6,281.2 349.8,278.4 351.1,275.6 352.4,272.7 353.6,269.7 354.9,266.7 356.1,263.7 357.4,260.6 358.7,257.5 359.9,254.3 361.2,251.1 362.5,247.8 363.7,244.4 365.0,241.1 366.3,237.6 367.5,234.1 368.8,230.5 370.1,226.9 371.3,223.3 372.6,219.5 373.8,215.7 375.1,211.9 376.4,208.0 377.6,204.0 378.9,199.9 380.2,195.8 381.4,191.6 382.7,187.4 384.0,183.1 385.2,178.7 386.5,174.2 387.8,169.7 389.0,165.1 390.3,160.4 391.5,155.7 392.8,150.9 394.1,146.0 395.3,141.0 396.6,135.9 397.9,130.8 399.1,125.6 400.4,120.3 401.7,114.9 402.9,109.4 404.2,103.8 405.5,98.1 406.7,92.4 408.0,86.5 409.2,80.6 410.5,74.6 411.8,68.4 413.0,62.2 414.3,55.9 415.6,49.4 416.8,42.9 418.1,36.3 419.4,42.9 420.6,49.4 421.9,55.9 423.2,62.2 424.4,68.4 425.7,74.6 427.0,80.6 428.2,86.5 429.5,92.4 430.7,98.1 432.0,103.8 433.3,109.4 434.5,114.9 435.8,120.3 437.1,125.6 438.3,130.8 439.6,135.9 440.9,141.0 442.1,146.0 443.4,150.9 444.7,155.7 445.9,160.4 447.2,165.1 448.4,169.7 449.7,174.2 451.0,178.7 452.2,183.1 453.5,187.4 454.8,191.6 456.0,195.8 457.3,199.9 458.6,204.0 459.8,208.0 461.1,211.9 462.4,215.7 463.6,219.5 464.9,223.3 466.1,226.9 467.4,230.5 468.7,234.1 469.9,237.6 471.2,241.1 472.5,244.4 473.7,247.8 475.0,251.1 476.3,254.3 477.5,257.5 478.8,260.6 480.1,263.7 481.3,266.7 482.6,269.7 483.8,272.7 485.1,275.6 486.4,278.4 487.6,281.2 488.9,284.0 490.2,286.7 491.4,289.3 492.7,292.0 494.0,294.5 495.2,297.1 496.5,299.6 497.8,302.1 499.0,304.5 500.3,306.9 501.6,309.2 502.8,311.5 504.1,313.8 505.3,316.0 506.6,318.2 507.9,320.4 509.1,322.5 510.4,324.6 511.7,326.7 512.9,328.7 514.2,330.7 515.5,332.7 516.7,334.6 518.0,336.6 519.3,338.4 520.5,340.3 521.8,342.1 523.0,343.9 524.3,345.6 525.6,347.4 526.8,349.1 528.1,350.8 529.4,352.4 530.6,354.0 531.9,355.6 533.2,357.2 534.4,358.8 535.7,360.3 537.0,361.8 538.2,363.3 539.5,364.7 540.7,366.1 542.0,367.6 543.3,368.9 544.5,370.3 545.8,371.6 547.1,373.0 548.3,374.3 549.6,375.5 550.9,376.8 552.1,378.0 553.4,379.3 554.7,380.5 555.9,381.6 557.2,382.8 558.4,383.9 559.7,385.1 561.0,386.2 562.2,387.3 563.5,388.3 564.8,389.4 566.0,390.4 567.3,391.4 568.6,392.4 569.8,393.4 571.1,394.4 572.4,395.4 573.6,396.3 574.9,397.2 576.2,398.2 577.4,399.1 578.7,399.9 579.9,400.8 581.2,401.7 582.5,402.5 583.7,403.3 585.0,404.2 586.3,405.0 587.5,405.8 588.8,406.5 590.1,407.3 591.3,408.1 592.6,408.8 593.9,409.5 595.1,410.2 596.4,410.9 597.6,411.6 598.9,412.3 600.2,413.0 601.4,413.7 602.7,414.3 604.0,415.0 605.2,415.6 606.5,416.2 607.8,416.8 609.0,417.4 610.3,418.0 611.6,418.6 612.8,419.2 614.1,419.8 615.3,420.3 616.6,420.9 617.9,421.4 619.1,421.9 620.4,422.4 621.7,423.0 622.9,423.5 624.2,424.0 625.5,424.5 626.7,424.9 628.0,425.4 629.3,425.9 630.5,426.3 631.8,426.8 633.0,427.2 634.3,427.7 635.6,428.1 636.8,428.5 638.1,428.9 639.4,429.3 640.6,429.8 641.9,430.2 643.2,430.5 644.4,430.9 645.7,431.3 647.0,431.7 648.2,432.0 649.5,432.4 650.7,432.8 652.0,433.1 653.3,433.5 654.5,433.8 655.8,434.1 657.1,434.5 658.3,434.8 659.6,435.1 660.9,435.4 662.1,435.7 663.4,436.0 664.7,436.3 665.9,436.6 667.2,436.9 668.5,437.2 669.7,437.5 671.0,437.7 672.2,438.0 673.5,438.3 674.8,438.5 676.0,438.8 677.3,439.1 678.6,439.3 679.8,439.5 681.1,439.8 682.4,440.0 683.6,440.3 684.9,440.5 686.2,440.7 687.4,440.9 688.7,441.2 689.9,441.4 691.2,441.6 692.5,441.8 693.7,442.0 695.0,442.2 696.3,442.4 697.5,442.6 698.8,442.8 700.1,443.0 701.3,443.2 702.6,443.4 703.9,443.5 705.1,443.7 706.4,443.9 707.6,444.1 708.9,444.2 710.2,444.4 711.4,444.6 712.7,444.7 714.0,444.9 715.2,445.1 716.5,445.2 717.8,445.4 719.0,445.5 720.3,445.7 721.6,445.8 722.8,445.9 724.1,446.1 725.3,446.2 726.6,446.4 727.9,446.5 729.1,446.6 730.4,446.8 731.7,446.9 732.9,447.0 734.2,447.1"/></g>
</g>
<g stroke="#000" stroke-width="3.3" fill="none">
<line x1="165.2" y1="454.8" x2="165.2" y2="447.5"/>
<line x1="165.2" y1="10.1" x2="165.2" y2="17.4"/>
<line x1="291.7" y1="454.8" x2="291.7" y2="447.5"/>
<line x1="291.7" y1="10.1" x2="291.7" y2="17.4"/>
<line x1="418.1" y1="454.8" x2="418.1" y2="447.5"/>
<line x1="418.1" y1="10.1" x2="418.1" y2="17.4"/>
<line x1="544.5" y1="454.8" x2="544.5" y2="447.5"/>
<line x1="544.5" y1="10.1" x2="544.5" y2="17.4"/>
<line x1="671.0" y1="454.8" x2="671.0" y2="447.5"/>
<line x1="671.0" y1="10.1" x2="671.0" y2="17.4"/>
<line x1="102.0" y1="454.8" x2="109.3" y2="454.8"/>
<line x1="734.2" y1="454.8" x2="726.9" y2="454.8"/>
<line x1="102.0" y1="402.5" x2="109.3" y2="402.5"/>
<line x1="734.2" y1="402.5" x2="726.9" y2="402.5"/>
<line x1="102.0" y1="350.2" x2="109.3" y2="350.2"/>
<line x1="734.2" y1="350.2" x2="726.9" y2="350.2"/>
<line x1="102.0" y1="297.8" x2="109.3" y2="297.8"/>
<line x1="734.2" y1="297.8" x2="726.9" y2="297.8"/>
<line x1="102.0" y1="245.5" x2="109.3" y2="245.5"/>
<line x1="734.2" y1="245.5" x2="726.9" y2="245.5"/>
<line x1="102.0" y1="193.2" x2="109.3" y2="193.2"/>
<line x1="734.2" y1="193.2" x2="726.9" y2="193.2"/>
<line x1="102.0" y1="140.9" x2="109.3" y2="140.9"/>
<line x1="734.2" y1="140.9" x2="726.9" y2="140.9"/>
<line x1="102.0" y1="88.6" x2="109.3" y2="88.6"/>
<line x1="734.2" y1="88.6" x2="726.9" y2="88.6"/>
<line x1="102.0" y1="36.3" x2="109.3" y2="36.3"/>
<line x1="734.2" y1="36.3" x2="726.9" y2="36.3"/>
</g>
<rect x="102.0" y="10.1" width="632.2" height="444.7" fill="none" stroke="#000" stroke-width="5.6"/>
<text class="tk" transform="translate(165.2,492.2) scale(1,1.075)" text-anchor="middle">-4</text>
<text class="tk" transform="translate(291.7,492.2) scale(1,1.075)" text-anchor="middle">-2</text>
<text class="tk" transform="translate(422.0,492.2) scale(1,1.075)" text-anchor="middle">0</text>
<text class="tk" transform="translate(548.4,492.2) scale(1,1.075)" text-anchor="middle">2</text>
<text class="tk" transform="translate(674.9,492.2) scale(1,1.075)" text-anchor="middle">4</text>
<text class="tk" transform="translate(85.1,464.5) scale(1,1.075)" text-anchor="end">0.0</text>
<text class="tk" transform="translate(85.1,412.2) scale(1,1.075)" text-anchor="end">0.1</text>
<text class="tk" transform="translate(85.1,359.9) scale(1,1.075)" text-anchor="end">0.2</text>
<text class="tk" transform="translate(85.1,307.5) scale(1,1.075)" text-anchor="end">0.3</text>
<text class="tk" transform="translate(85.1,255.2) scale(1,1.075)" text-anchor="end">0.4</text>
<text class="tk" transform="translate(85.1,202.9) scale(1,1.075)" text-anchor="end">0.5</text>
<text class="tk" transform="translate(85.1,150.6) scale(1,1.075)" text-anchor="end">0.6</text>
<text class="tk" transform="translate(85.1,98.3) scale(1,1.075)" text-anchor="end">0.7</text>
<text class="tk" transform="translate(85.1,46.0) scale(1,1.075)" text-anchor="end">0.8</text>
<text class="xl" x="418.4" y="533.5" text-anchor="middle">x</text>
<text class="yl" transform="translate(16.4,232.1) rotate(-90)" text-anchor="middle">Real part of large-component eigenfunction</text>
<text class="tt" x="132.9" y="62.2">(a) Large component</text>
<text class="lg" x="643.8" y="47.7" text-anchor="end">L = 10, <tspan class="sym lam">Λ</tspan>=2</text>
<line x1="654.3" y1="41.5" x2="704.8" y2="41.5" stroke="#0000ff" stroke-width="3.2" stroke-dasharray="1.5 1.85 7 1.85 1.5 1.8"/>
<text class="lg" x="643.8" y="65.5" text-anchor="end">L = 10, <tspan class="sym lam">Λ</tspan>=4</text>
<line x1="654.3" y1="59.3" x2="704.8" y2="59.3" stroke="#006400" stroke-width="3.2" stroke-dasharray="7.1 2 1.4 1.9"/>
<text class="lg" x="643.8" y="83.3" text-anchor="end">L = 10, <tspan class="sym lam">Λ</tspan>=6</text>
<line x1="654.3" y1="77.1" x2="704.8" y2="77.1" stroke="#ffa500" stroke-width="3.2" stroke-dasharray="2.8 2.8"/>
<text class="lg" x="643.8" y="101.0" text-anchor="end">L = 10, <tspan class="sym lam">Λ</tspan>=8</text>
<line x1="654.3" y1="94.8" x2="704.8" y2="94.8" stroke="#ff0000" stroke-width="3.2" stroke-dasharray="1.4 1.47"/>
<text class="lg" x="643.8" y="118.8" text-anchor="end">Exact (L <tspan class="ar" dy="2.9">→</tspan><tspan class="sym" dx="1" dy="-2.9"> ∞</tspan>, <tspan class="sym lam" dx="-0.2">Λ</tspan><tspan class="ar" dx="-4.5" dy="2.9"> →</tspan><tspan class="sym" dx="0.4" dy="-2.9"> ∞</tspan>)</text>
<line x1="654.3" y1="112.6" x2="704.8" y2="112.6" stroke="#000" stroke-width="3.2"/>
<defs><clipPath id="clip_b"><rect x="932.0" y="10.1" width="615.2" height="444.7"/></clipPath></defs>
<g clip-path="url(#clip_b)" fill="none" stroke-width="3.2" stroke-linejoin="round">
<line x1="932.0" y1="232.5" x2="1547.2" y2="232.5" stroke="#000"/>
<polyline stroke="#0000ff" stroke-dasharray="1.5 1.85 7 1.85 1.5 1.8" points="932.0,232.5 933.2,233.2 934.5,233.9 935.7,234.6 936.9,235.3 938.2,236.0 939.4,236.7 940.6,237.4 941.8,238.1 943.1,238.8 944.3,239.4 945.5,240.1 946.8,240.7 948.0,241.4 949.2,242.0 950.5,242.6 951.7,243.2 952.9,243.8 954.1,244.3 955.4,244.9 956.6,245.4 957.8,245.9 959.1,246.4 960.3,246.8 961.5,247.3 962.8,247.7 964.0,248.1 965.2,248.5 966.5,248.9 967.7,249.2 968.9,249.5 970.1,249.8 971.4,250.0 972.6,250.3 973.8,250.5 975.1,250.7 976.3,250.8 977.5,251.0 978.8,251.1 980.0,251.2 981.2,251.2 982.4,251.3 983.7,251.3 984.9,251.3 986.1,251.2 987.4,251.2 988.6,251.1 989.8,251.0 991.1,250.9 992.3,250.7 993.5,250.5 994.8,250.3 996.0,250.1 997.2,249.9 998.4,249.6 999.7,249.4 1000.9,249.1 1002.1,248.8 1003.4,248.5 1004.6,248.1 1005.8,247.8 1007.1,247.4 1008.3,247.0 1009.5,246.6 1010.7,246.3 1012.0,245.8 1013.2,245.4 1014.4,245.0 1015.7,244.6 1016.9,244.2 1018.1,243.7 1019.4,243.3 1020.6,242.9 1021.8,242.4 1023.0,242.0 1024.3,241.6 1025.5,241.1 1026.7,240.7 1028.0,240.3 1029.2,239.9 1030.4,239.5 1031.7,239.1 1032.9,238.8 1034.1,238.4 1035.4,238.1 1036.6,237.7 1037.8,237.4 1039.0,237.1 1040.3,236.9 1041.5,236.6 1042.7,236.4 1044.0,236.2 1045.2,236.0 1046.4,235.8 1047.7,235.7 1048.9,235.6 1050.1,235.5 1051.3,235.5 1052.6,235.5 1053.8,235.5 1055.0,235.5 1056.3,235.6 1057.5,235.7 1058.7,235.8 1060.0,236.0 1061.2,236.2 1062.4,236.5 1063.7,236.7 1064.9,237.1 1066.1,237.4 1067.3,237.8 1068.6,238.2 1069.8,238.7 1071.0,239.2 1072.3,239.8 1073.5,240.3 1074.7,241.0 1076.0,241.6 1077.2,242.3 1078.4,243.1 1079.6,243.8 1080.9,244.6 1082.1,245.5 1083.3,246.4 1084.6,247.3 1085.8,248.2 1087.0,249.2 1088.3,250.2 1089.5,251.3 1090.7,252.4 1092.0,253.5 1093.2,254.7 1094.4,255.8 1095.6,257.0 1096.9,258.3 1098.1,259.6 1099.3,260.8 1100.6,262.2 1101.8,263.5 1103.0,264.9 1104.3,266.2 1105.5,267.7 1106.7,269.1 1107.9,270.5 1109.2,272.0 1110.4,273.4 1111.6,274.9 1112.9,276.4 1114.1,277.9 1115.3,279.4 1116.6,280.9 1117.8,282.4 1119.0,283.9 1120.3,285.4 1121.5,287.0 1122.7,288.5 1123.9,290.0 1125.2,291.5 1126.4,293.0 1127.6,294.4 1128.9,295.9 1130.1,297.4 1131.3,298.8 1132.6,300.2 1133.8,301.6 1135.0,303.0 1136.2,304.3 1137.5,305.6 1138.7,306.9 1139.9,308.2 1141.2,309.4 1142.4,310.6 1143.6,311.8 1144.9,312.9 1146.1,314.0 1147.3,315.0 1148.6,316.0 1149.8,317.0 1151.0,317.9 1152.2,318.8 1153.5,319.6 1154.7,320.4 1155.9,321.1 1157.2,321.8 1158.4,322.4 1159.6,322.9 1160.9,323.4 1162.1,323.9 1163.3,324.3 1164.5,324.6 1165.8,324.9 1167.0,325.1 1168.2,325.2 1169.5,325.3 1170.7,325.3 1171.9,325.2 1173.2,325.1 1174.4,324.9 1175.6,324.7 1176.8,324.4 1178.1,324.0 1179.3,323.5 1180.5,323.0 1181.8,322.4 1183.0,321.8 1184.2,321.1 1185.5,320.3 1186.7,319.4 1187.9,318.5 1189.2,317.5 1190.4,316.5 1191.6,315.3 1192.8,314.1 1194.1,312.9 1195.3,311.6 1196.5,310.2 1197.8,308.7 1199.0,307.2 1200.2,305.7 1201.5,304.1 1202.7,302.4 1203.9,300.6 1205.1,298.8 1206.4,297.0 1207.6,295.1 1208.8,293.1 1210.1,291.1 1211.3,289.0 1212.5,286.9 1213.8,284.8 1215.0,282.6 1216.2,280.4 1217.5,278.1 1218.7,275.8 1219.9,273.4 1221.1,271.0 1222.4,268.6 1223.6,266.2 1224.8,263.7 1226.1,261.2 1227.3,258.6 1228.5,256.1 1229.8,253.5 1231.0,250.9 1232.2,248.3 1233.4,245.7 1234.7,243.1 1235.9,240.4 1237.1,237.8 1238.4,235.1 1239.6,232.5 1240.8,229.8 1242.1,227.1 1243.3,224.5 1244.5,221.8 1245.8,219.2 1247.0,216.6 1248.2,214.0 1249.4,211.4 1250.7,208.8 1251.9,206.3 1253.1,203.7 1254.4,201.2 1255.6,198.7 1256.8,196.3 1258.1,193.9 1259.3,191.5 1260.5,189.1 1261.7,186.8 1263.0,184.5 1264.2,182.3 1265.4,180.1 1266.7,178.0 1267.9,175.9 1269.1,173.8 1270.4,171.8 1271.6,169.8 1272.8,167.9 1274.1,166.1 1275.3,164.3 1276.5,162.5 1277.7,160.8 1279.0,159.2 1280.2,157.7 1281.4,156.2 1282.7,154.7 1283.9,153.3 1285.1,152.0 1286.4,150.8 1287.6,149.6 1288.8,148.4 1290.0,147.4 1291.3,146.4 1292.5,145.5 1293.7,144.6 1295.0,143.8 1296.2,143.1 1297.4,142.5 1298.7,141.9 1299.9,141.4 1301.1,140.9 1302.4,140.5 1303.6,140.2 1304.8,140.0 1306.0,139.8 1307.3,139.7 1308.5,139.6 1309.7,139.6 1311.0,139.7 1312.2,139.8 1313.4,140.0 1314.7,140.3 1315.9,140.6 1317.1,141.0 1318.3,141.5 1319.6,142.0 1320.8,142.5 1322.0,143.1 1323.3,143.8 1324.5,144.5 1325.7,145.3 1327.0,146.1 1328.2,147.0 1329.4,147.9 1330.6,148.9 1331.9,149.9 1333.1,150.9 1334.3,152.0 1335.6,153.1 1336.8,154.3 1338.0,155.5 1339.3,156.7 1340.5,158.0 1341.7,159.3 1343.0,160.6 1344.2,161.9 1345.4,163.3 1346.6,164.7 1347.9,166.1 1349.1,167.5 1350.3,169.0 1351.6,170.5 1352.8,171.9 1354.0,173.4 1355.3,174.9 1356.5,176.4 1357.7,177.9 1358.9,179.5 1360.2,181.0 1361.4,182.5 1362.6,184.0 1363.9,185.5 1365.1,187.0 1366.3,188.5 1367.6,190.0 1368.8,191.5 1370.0,192.9 1371.3,194.4 1372.5,195.8 1373.7,197.2 1374.9,198.7 1376.2,200.0 1377.4,201.4 1378.6,202.7 1379.9,204.1 1381.1,205.3 1382.3,206.6 1383.6,207.9 1384.8,209.1 1386.0,210.2 1387.2,211.4 1388.5,212.5 1389.7,213.6 1390.9,214.7 1392.2,215.7 1393.4,216.7 1394.6,217.6 1395.9,218.5 1397.1,219.4 1398.3,220.3 1399.6,221.1 1400.8,221.8 1402.0,222.6 1403.2,223.3 1404.5,223.9 1405.7,224.6 1406.9,225.1 1408.2,225.7 1409.4,226.2 1410.6,226.7 1411.9,227.1 1413.1,227.5 1414.3,227.8 1415.5,228.2 1416.8,228.4 1418.0,228.7 1419.2,228.9 1420.5,229.1 1421.7,229.2 1422.9,229.3 1424.2,229.4 1425.4,229.4 1426.6,229.4 1427.9,229.4 1429.1,229.4 1430.3,229.3 1431.5,229.2 1432.8,229.1 1434.0,228.9 1435.2,228.7 1436.5,228.5 1437.7,228.3 1438.9,228.0 1440.2,227.8 1441.4,227.5 1442.6,227.2 1443.8,226.8 1445.1,226.5 1446.3,226.1 1447.5,225.8 1448.8,225.4 1450.0,225.0 1451.2,224.6 1452.5,224.2 1453.7,223.8 1454.9,223.3 1456.2,222.9 1457.4,222.5 1458.6,222.0 1459.8,221.6 1461.1,221.2 1462.3,220.7 1463.5,220.3 1464.8,219.9 1466.0,219.5 1467.2,219.1 1468.5,218.6 1469.7,218.3 1470.9,217.9 1472.1,217.5 1473.4,217.1 1474.6,216.8 1475.8,216.4 1477.1,216.1 1478.3,215.8 1479.5,215.5 1480.8,215.3 1482.0,215.0 1483.2,214.8 1484.4,214.6 1485.7,214.4 1486.9,214.2 1488.1,214.0 1489.4,213.9 1490.6,213.8 1491.8,213.7 1493.1,213.7 1494.3,213.6 1495.5,213.6 1496.8,213.6 1498.0,213.7 1499.2,213.7 1500.4,213.8 1501.7,213.9 1502.9,214.1 1504.1,214.2 1505.4,214.4 1506.6,214.6 1507.8,214.9 1509.1,215.1 1510.3,215.4 1511.5,215.7 1512.7,216.0 1514.0,216.4 1515.2,216.8 1516.4,217.2 1517.7,217.6 1518.9,218.1 1520.1,218.5 1521.4,219.0 1522.6,219.5 1523.8,220.0 1525.1,220.6 1526.3,221.1 1527.5,221.7 1528.7,222.3 1530.0,222.9 1531.2,223.5 1532.4,224.2 1533.7,224.8 1534.9,225.5 1536.1,226.1 1537.4,226.8 1538.6,227.5 1539.8,228.2 1541.0,228.9 1542.3,229.6 1543.5,230.3 1544.7,231.0 1546.0,231.7 1547.2,232.5"/>
<polyline stroke="#006400" stroke-dasharray="7.1 2 1.4 1.9" points="932.0,232.5 933.2,231.9 934.5,231.4 935.7,230.8 936.9,230.3 938.2,229.8 939.4,229.3 940.6,228.8 941.8,228.4 943.1,228.0 944.3,227.7 945.5,227.4 946.8,227.1 948.0,226.9 949.2,226.7 950.5,226.5 951.7,226.5 952.9,226.5 954.1,226.5 955.4,226.6 956.6,226.7 957.8,226.9 959.1,227.2 960.3,227.5 961.5,227.9 962.8,228.3 964.0,228.8 965.2,229.3 966.5,229.9 967.7,230.5 968.9,231.1 970.1,231.8 971.4,232.5 972.6,233.3 973.8,234.1 975.1,234.9 976.3,235.7 977.5,236.5 978.8,237.4 980.0,238.2 981.2,239.1 982.4,239.9 983.7,240.8 984.9,241.6 986.1,242.4 987.4,243.2 988.6,243.9 989.8,244.6 991.1,245.3 992.3,246.0 993.5,246.6 994.8,247.1 996.0,247.7 997.2,248.1 998.4,248.5 999.7,248.9 1000.9,249.2 1002.1,249.4 1003.4,249.6 1004.6,249.8 1005.8,249.8 1007.1,249.9 1008.3,249.8 1009.5,249.7 1010.7,249.6 1012.0,249.4 1013.2,249.1 1014.4,248.8 1015.7,248.5 1016.9,248.1 1018.1,247.7 1019.4,247.3 1020.6,246.8 1021.8,246.3 1023.0,245.8 1024.3,245.3 1025.5,244.7 1026.7,244.2 1028.0,243.6 1029.2,243.1 1030.4,242.5 1031.7,242.0 1032.9,241.5 1034.1,241.1 1035.4,240.6 1036.6,240.2 1037.8,239.9 1039.0,239.6 1040.3,239.3 1041.5,239.1 1042.7,238.9 1044.0,238.8 1045.2,238.8 1046.4,238.8 1047.7,238.9 1048.9,239.1 1050.1,239.3 1051.3,239.6 1052.6,240.0 1053.8,240.4 1055.0,240.9 1056.3,241.5 1057.5,242.2 1058.7,242.9 1060.0,243.7 1061.2,244.5 1062.4,245.5 1063.7,246.4 1064.9,247.5 1066.1,248.5 1067.3,249.6 1068.6,250.8 1069.8,252.0 1071.0,253.2 1072.3,254.4 1073.5,255.7 1074.7,257.0 1076.0,258.3 1077.2,259.5 1078.4,260.8 1079.6,262.1 1080.9,263.3 1082.1,264.6 1083.3,265.8 1084.6,266.9 1085.8,268.0 1087.0,269.1 1088.3,270.1 1089.5,271.1 1090.7,272.0 1092.0,272.9 1093.2,273.7 1094.4,274.4 1095.6,275.0 1096.9,275.6 1098.1,276.1 1099.3,276.5 1100.6,276.8 1101.8,277.1 1103.0,277.3 1104.3,277.4 1105.5,277.4 1106.7,277.4 1107.9,277.3 1109.2,277.1 1110.4,276.8 1111.6,276.5 1112.9,276.2 1114.1,275.8 1115.3,275.3 1116.6,274.8 1117.8,274.3 1119.0,273.8 1120.3,273.2 1121.5,272.7 1122.7,272.1 1123.9,271.5 1125.2,271.0 1126.4,270.5 1127.6,270.0 1128.9,269.5 1130.1,269.1 1131.3,268.8 1132.6,268.5 1133.8,268.3 1135.0,268.2 1136.2,268.1 1137.5,268.2 1138.7,268.4 1139.9,268.6 1141.2,269.0 1142.4,269.5 1143.6,270.1 1144.9,270.9 1146.1,271.8 1147.3,272.8 1148.6,273.9 1149.8,275.2 1151.0,276.6 1152.2,278.2 1153.5,279.9 1154.7,281.7 1155.9,283.7 1157.2,285.8 1158.4,288.1 1159.6,290.4 1160.9,292.9 1162.1,295.4 1163.3,298.1 1164.5,300.9 1165.8,303.7 1167.0,306.7 1168.2,309.6 1169.5,312.7 1170.7,315.8 1171.9,318.9 1173.2,322.0 1174.4,325.2 1175.6,328.3 1176.8,331.4 1178.1,334.5 1179.3,337.5 1180.5,340.4 1181.8,343.3 1183.0,346.1 1184.2,348.7 1185.5,351.3 1186.7,353.7 1187.9,355.9 1189.2,358.0 1190.4,359.9 1191.6,361.7 1192.8,363.2 1194.1,364.5 1195.3,365.5 1196.5,366.4 1197.8,367.0 1199.0,367.3 1200.2,367.3 1201.5,367.1 1202.7,366.6 1203.9,365.9 1205.1,364.8 1206.4,363.5 1207.6,361.8 1208.8,359.9 1210.1,357.6 1211.3,355.1 1212.5,352.2 1213.8,349.1 1215.0,345.7 1216.2,342.0 1217.5,338.0 1218.7,333.8 1219.9,329.3 1221.1,324.6 1222.4,319.6 1223.6,314.4 1224.8,309.0 1226.1,303.3 1227.3,297.5 1228.5,291.5 1229.8,285.4 1231.0,279.1 1232.2,272.6 1233.4,266.1 1234.7,259.5 1235.9,252.8 1237.1,246.0 1238.4,239.3 1239.6,232.5 1240.8,225.6 1242.1,218.9 1243.3,212.1 1244.5,205.4 1245.8,198.8 1247.0,192.3 1248.2,185.8 1249.4,179.5 1250.7,173.4 1251.9,167.4 1253.1,161.6 1254.4,155.9 1255.6,150.5 1256.8,145.3 1258.1,140.3 1259.3,135.6 1260.5,131.1 1261.7,126.9 1263.0,122.9 1264.2,119.2 1265.4,115.8 1266.7,112.7 1267.9,109.8 1269.1,107.3 1270.4,105.0 1271.6,103.1 1272.8,101.4 1274.1,100.1 1275.3,99.0 1276.5,98.3 1277.7,97.8 1279.0,97.6 1280.2,97.6 1281.4,97.9 1282.7,98.5 1283.9,99.4 1285.1,100.4 1286.4,101.7 1287.6,103.2 1288.8,105.0 1290.0,106.9 1291.3,109.0 1292.5,111.2 1293.7,113.6 1295.0,116.2 1296.2,118.8 1297.4,121.6 1298.7,124.5 1299.9,127.4 1301.1,130.4 1302.4,133.5 1303.6,136.6 1304.8,139.7 1306.0,142.9 1307.3,146.0 1308.5,149.1 1309.7,152.2 1311.0,155.3 1312.2,158.2 1313.4,161.2 1314.7,164.0 1315.9,166.8 1317.1,169.5 1318.3,172.0 1319.6,174.5 1320.8,176.8 1322.0,179.1 1323.3,181.2 1324.5,183.2 1325.7,185.0 1327.0,186.7 1328.2,188.3 1329.4,189.7 1330.6,191.0 1331.9,192.1 1333.1,193.1 1334.3,194.0 1335.6,194.8 1336.8,195.4 1338.0,195.9 1339.3,196.3 1340.5,196.5 1341.7,196.7 1343.0,196.8 1344.2,196.7 1345.4,196.6 1346.6,196.4 1347.9,196.1 1349.1,195.8 1350.3,195.4 1351.6,194.9 1352.8,194.4 1354.0,193.9 1355.3,193.4 1356.5,192.8 1357.7,192.2 1358.9,191.7 1360.2,191.1 1361.4,190.6 1362.6,190.1 1363.9,189.6 1365.1,189.1 1366.3,188.7 1367.6,188.4 1368.8,188.1 1370.0,187.8 1371.3,187.6 1372.5,187.5 1373.7,187.5 1374.9,187.5 1376.2,187.6 1377.4,187.8 1378.6,188.1 1379.9,188.4 1381.1,188.8 1382.3,189.3 1383.6,189.9 1384.8,190.5 1386.0,191.2 1387.2,192.0 1388.5,192.9 1389.7,193.8 1390.9,194.8 1392.2,195.8 1393.4,196.9 1394.6,198.0 1395.9,199.1 1397.1,200.3 1398.3,201.6 1399.6,202.8 1400.8,204.1 1402.0,205.4 1403.2,206.6 1404.5,207.9 1405.7,209.2 1406.9,210.5 1408.2,211.7 1409.4,212.9 1410.6,214.1 1411.9,215.3 1413.1,216.4 1414.3,217.4 1415.5,218.5 1416.8,219.4 1418.0,220.4 1419.2,221.2 1420.5,222.0 1421.7,222.7 1422.9,223.4 1424.2,224.0 1425.4,224.5 1426.6,224.9 1427.9,225.3 1429.1,225.6 1430.3,225.8 1431.5,226.0 1432.8,226.1 1434.0,226.1 1435.2,226.1 1436.5,226.0 1437.7,225.8 1438.9,225.6 1440.2,225.3 1441.4,225.0 1442.6,224.7 1443.8,224.3 1445.1,223.8 1446.3,223.4 1447.5,222.9 1448.8,222.4 1450.0,221.8 1451.2,221.3 1452.5,220.7 1453.7,220.2 1454.9,219.6 1456.2,219.1 1457.4,218.6 1458.6,218.1 1459.8,217.6 1461.1,217.2 1462.3,216.8 1463.5,216.4 1464.8,216.1 1466.0,215.8 1467.2,215.5 1468.5,215.3 1469.7,215.2 1470.9,215.1 1472.1,215.0 1473.4,215.1 1474.6,215.1 1475.8,215.3 1477.1,215.5 1478.3,215.7 1479.5,216.0 1480.8,216.4 1482.0,216.8 1483.2,217.2 1484.4,217.8 1485.7,218.3 1486.9,218.9 1488.1,219.6 1489.4,220.3 1490.6,221.0 1491.8,221.7 1493.1,222.5 1494.3,223.3 1495.5,224.1 1496.8,225.0 1498.0,225.8 1499.2,226.7 1500.4,227.5 1501.7,228.4 1502.9,229.2 1504.1,230.0 1505.4,230.8 1506.6,231.6 1507.8,232.4 1509.1,233.1 1510.3,233.8 1511.5,234.4 1512.7,235.0 1514.0,235.6 1515.2,236.1 1516.4,236.6 1517.7,237.0 1518.9,237.4 1520.1,237.7 1521.4,238.0 1522.6,238.2 1523.8,238.3 1525.1,238.4 1526.3,238.4 1527.5,238.4 1528.7,238.4 1530.0,238.2 1531.2,238.0 1532.4,237.8 1533.7,237.5 1534.9,237.2 1536.1,236.9 1537.4,236.5 1538.6,236.1 1539.8,235.6 1541.0,235.1 1542.3,234.6 1543.5,234.1 1544.7,233.5 1546.0,233.0 1547.2,232.5"/>
<polyline stroke="#ffa500" stroke-dasharray="2.8 2.8" points="932.0,232.5 933.2,233.3 934.5,234.1 935.7,234.9 936.9,235.7 938.2,236.4 939.4,237.1 940.6,237.8 941.8,238.4 943.1,238.9 944.3,239.3 945.5,239.6 946.8,239.9 948.0,240.1 949.2,240.2 950.5,240.2 951.7,240.1 952.9,240.0 954.1,239.7 955.4,239.4 956.6,239.1 957.8,238.7 959.1,238.2 960.3,237.7 961.5,237.1 962.8,236.5 964.0,235.9 965.2,235.3 966.5,234.8 967.7,234.2 968.9,233.7 970.1,233.2 971.4,232.7 972.6,232.3 973.8,232.0 975.1,231.7 976.3,231.5 977.5,231.4 978.8,231.4 980.0,231.4 981.2,231.6 982.4,231.8 983.7,232.1 984.9,232.5 986.1,233.0 987.4,233.6 988.6,234.3 989.8,235.0 991.1,235.7 992.3,236.6 993.5,237.4 994.8,238.3 996.0,239.2 997.2,240.2 998.4,241.1 999.7,242.0 1000.9,242.9 1002.1,243.7 1003.4,244.5 1004.6,245.3 1005.8,246.0 1007.1,246.6 1008.3,247.2 1009.5,247.7 1010.7,248.1 1012.0,248.4 1013.2,248.6 1014.4,248.7 1015.7,248.8 1016.9,248.7 1018.1,248.6 1019.4,248.4 1020.6,248.1 1021.8,247.7 1023.0,247.3 1024.3,246.8 1025.5,246.3 1026.7,245.7 1028.0,245.1 1029.2,244.6 1030.4,244.0 1031.7,243.4 1032.9,242.8 1034.1,242.3 1035.4,241.9 1036.6,241.4 1037.8,241.1 1039.0,240.8 1040.3,240.6 1041.5,240.5 1042.7,240.5 1044.0,240.6 1045.2,240.8 1046.4,241.1 1047.7,241.5 1048.9,242.1 1050.1,242.7 1051.3,243.4 1052.6,244.2 1053.8,245.1 1055.0,246.1 1056.3,247.1 1057.5,248.2 1058.7,249.4 1060.0,250.6 1061.2,251.8 1062.4,253.0 1063.7,254.3 1064.9,255.5 1066.1,256.7 1067.3,257.8 1068.6,258.9 1069.8,260.0 1071.0,260.9 1072.3,261.8 1073.5,262.6 1074.7,263.3 1076.0,263.9 1077.2,264.4 1078.4,264.8 1079.6,265.0 1080.9,265.2 1082.1,265.2 1083.3,265.2 1084.6,265.0 1085.8,264.8 1087.0,264.5 1088.3,264.0 1089.5,263.6 1090.7,263.1 1092.0,262.5 1093.2,261.9 1094.4,261.3 1095.6,260.7 1096.9,260.2 1098.1,259.6 1099.3,259.2 1100.6,258.8 1101.8,258.4 1103.0,258.2 1104.3,258.0 1105.5,258.0 1106.7,258.1 1107.9,258.4 1109.2,258.8 1110.4,259.3 1111.6,260.0 1112.9,260.8 1114.1,261.8 1115.3,262.9 1116.6,264.2 1117.8,265.5 1119.0,267.1 1120.3,268.7 1121.5,270.4 1122.7,272.2 1123.9,274.1 1125.2,276.1 1126.4,278.1 1127.6,280.1 1128.9,282.1 1130.1,284.1 1131.3,286.1 1132.6,288.0 1133.8,289.8 1135.0,291.6 1136.2,293.2 1137.5,294.7 1138.7,296.1 1139.9,297.4 1141.2,298.5 1142.4,299.4 1143.6,300.2 1144.9,300.8 1146.1,301.2 1147.3,301.5 1148.6,301.6 1149.8,301.5 1151.0,301.3 1152.2,301.0 1153.5,300.5 1154.7,299.9 1155.9,299.3 1157.2,298.6 1158.4,297.8 1159.6,297.1 1160.9,296.3 1162.1,295.6 1163.3,294.9 1164.5,294.3 1165.8,293.9 1167.0,293.6 1168.2,293.4 1169.5,293.5 1170.7,293.7 1171.9,294.2 1173.2,294.9 1174.4,295.9 1175.6,297.2 1176.8,298.8 1178.1,300.6 1179.3,302.8 1180.5,305.2 1181.8,308.0 1183.0,311.0 1184.2,314.3 1185.5,317.9 1186.7,321.6 1187.9,325.6 1189.2,329.8 1190.4,334.1 1191.6,338.6 1192.8,343.1 1194.1,347.7 1195.3,352.2 1196.5,356.8 1197.8,361.2 1199.0,365.5 1200.2,369.5 1201.5,373.4 1202.7,377.0 1203.9,380.2 1205.1,383.1 1206.4,385.5 1207.6,387.5 1208.8,388.9 1210.1,389.9 1211.3,390.2 1212.5,390.0 1213.8,389.1 1215.0,387.5 1216.2,385.3 1217.5,382.5 1218.7,378.9 1219.9,374.6 1221.1,369.7 1222.4,364.1 1223.6,357.8 1224.8,350.9 1226.1,343.4 1227.3,335.3 1228.5,326.7 1229.8,317.6 1231.0,308.0 1232.2,298.0 1233.4,287.6 1234.7,277.0 1235.9,266.1 1237.1,255.0 1238.4,243.7 1239.6,232.5 1240.8,221.2 1242.1,209.9 1243.3,198.8 1244.5,187.9 1245.8,177.3 1247.0,166.9 1248.2,156.9 1249.4,147.3 1250.7,138.2 1251.9,129.6 1253.1,121.5 1254.4,114.0 1255.6,107.1 1256.8,100.8 1258.1,95.2 1259.3,90.3 1260.5,86.0 1261.7,82.4 1263.0,79.6 1264.2,77.4 1265.4,75.8 1266.7,74.9 1267.9,74.7 1269.1,75.0 1270.4,76.0 1271.6,77.4 1272.8,79.4 1274.1,81.8 1275.3,84.7 1276.5,87.9 1277.7,91.5 1279.0,95.4 1280.2,99.4 1281.4,103.7 1282.7,108.1 1283.9,112.7 1285.1,117.2 1286.4,121.8 1287.6,126.3 1288.8,130.8 1290.0,135.1 1291.3,139.3 1292.5,143.3 1293.7,147.0 1295.0,150.6 1296.2,153.9 1297.4,156.9 1298.7,159.7 1299.9,162.1 1301.1,164.3 1302.4,166.1 1303.6,167.7 1304.8,169.0 1306.0,170.0 1307.3,170.7 1308.5,171.2 1309.7,171.4 1311.0,171.5 1312.2,171.3 1313.4,171.0 1314.7,170.6 1315.9,170.0 1317.1,169.3 1318.3,168.6 1319.6,167.8 1320.8,167.1 1322.0,166.3 1323.3,165.6 1324.5,165.0 1325.7,164.4 1327.0,163.9 1328.2,163.6 1329.4,163.4 1330.6,163.3 1331.9,163.4 1333.1,163.7 1334.3,164.1 1335.6,164.7 1336.8,165.5 1338.0,166.4 1339.3,167.5 1340.5,168.8 1341.7,170.2 1343.0,171.7 1344.2,173.3 1345.4,175.1 1346.6,176.9 1347.9,178.8 1349.1,180.8 1350.3,182.8 1351.6,184.8 1352.8,186.8 1354.0,188.8 1355.3,190.8 1356.5,192.7 1357.7,194.5 1358.9,196.2 1360.2,197.8 1361.4,199.4 1362.6,200.7 1363.9,202.0 1365.1,203.1 1366.3,204.1 1367.6,204.9 1368.8,205.6 1370.0,206.1 1371.3,206.5 1372.5,206.8 1373.7,206.9 1374.9,206.9 1376.2,206.7 1377.4,206.5 1378.6,206.1 1379.9,205.7 1381.1,205.3 1382.3,204.7 1383.6,204.2 1384.8,203.6 1386.0,203.0 1387.2,202.4 1388.5,201.8 1389.7,201.3 1390.9,200.9 1392.2,200.4 1393.4,200.1 1394.6,199.9 1395.9,199.7 1397.1,199.7 1398.3,199.7 1399.6,199.9 1400.8,200.1 1402.0,200.5 1403.2,201.0 1404.5,201.6 1405.7,202.3 1406.9,203.1 1408.2,204.0 1409.4,204.9 1410.6,206.0 1411.9,207.1 1413.1,208.2 1414.3,209.4 1415.5,210.6 1416.8,211.9 1418.0,213.1 1419.2,214.3 1420.5,215.5 1421.7,216.7 1422.9,217.8 1424.2,218.8 1425.4,219.8 1426.6,220.7 1427.9,221.5 1429.1,222.2 1430.3,222.8 1431.5,223.4 1432.8,223.8 1434.0,224.1 1435.2,224.3 1436.5,224.4 1437.7,224.4 1438.9,224.3 1440.2,224.1 1441.4,223.8 1442.6,223.5 1443.8,223.0 1445.1,222.6 1446.3,222.1 1447.5,221.5 1448.8,220.9 1450.0,220.3 1451.2,219.8 1452.5,219.2 1453.7,218.6 1454.9,218.1 1456.2,217.6 1457.4,217.2 1458.6,216.8 1459.8,216.5 1461.1,216.3 1462.3,216.2 1463.5,216.1 1464.8,216.2 1466.0,216.3 1467.2,216.5 1468.5,216.8 1469.7,217.2 1470.9,217.7 1472.1,218.3 1473.4,218.9 1474.6,219.6 1475.8,220.4 1477.1,221.2 1478.3,222.0 1479.5,222.9 1480.8,223.8 1482.0,224.7 1483.2,225.7 1484.4,226.6 1485.7,227.5 1486.9,228.3 1488.1,229.2 1489.4,229.9 1490.6,230.6 1491.8,231.3 1493.1,231.9 1494.3,232.4 1495.5,232.8 1496.8,233.1 1498.0,233.3 1499.2,233.5 1500.4,233.5 1501.7,233.5 1502.9,233.4 1504.1,233.2 1505.4,232.9 1506.6,232.6 1507.8,232.2 1509.1,231.7 1510.3,231.2 1511.5,230.7 1512.7,230.1 1514.0,229.6 1515.2,229.0 1516.4,228.4 1517.7,227.8 1518.9,227.2 1520.1,226.7 1521.4,226.2 1522.6,225.8 1523.8,225.5 1525.1,225.2 1526.3,224.9 1527.5,224.8 1528.7,224.7 1530.0,224.7 1531.2,224.8 1532.4,225.0 1533.7,225.3 1534.9,225.6 1536.1,226.0 1537.4,226.5 1538.6,227.1 1539.8,227.8 1541.0,228.5 1542.3,229.2 1543.5,230.0 1544.7,230.8 1546.0,231.6 1547.2,232.5"/>
<polyline stroke="#ff0000" stroke-dasharray="1.4 1.47" points="932.0,232.5 933.2,231.8 934.5,231.2 935.7,230.7 936.9,230.2 938.2,229.7 939.4,229.4 940.6,229.1 941.8,229.0 943.1,228.9 944.3,229.0 945.5,229.2 946.8,229.5 948.0,229.9 949.2,230.4 950.5,231.0 951.7,231.7 952.9,232.4 954.1,233.2 955.4,234.1 956.6,235.0 957.8,235.8 959.1,236.7 960.3,237.5 961.5,238.3 962.8,238.9 964.0,239.6 965.2,240.1 966.5,240.5 967.7,240.8 968.9,241.0 970.1,241.1 971.4,241.0 972.6,240.9 973.8,240.6 975.1,240.3 976.3,239.9 977.5,239.4 978.8,238.8 980.0,238.2 981.2,237.6 982.4,237.0 983.7,236.4 984.9,235.8 986.1,235.3 987.4,234.9 988.6,234.6 989.8,234.3 991.1,234.2 992.3,234.2 993.5,234.3 994.8,234.5 996.0,234.8 997.2,235.3 998.4,235.9 999.7,236.5 1000.9,237.3 1002.1,238.1 1003.4,239.0 1004.6,240.0 1005.8,240.9 1007.1,241.9 1008.3,242.9 1009.5,243.8 1010.7,244.6 1012.0,245.4 1013.2,246.2 1014.4,246.8 1015.7,247.3 1016.9,247.7 1018.1,247.9 1019.4,248.1 1020.6,248.1 1021.8,248.0 1023.0,247.7 1024.3,247.4 1025.5,247.0 1026.7,246.5 1028.0,246.0 1029.2,245.4 1030.4,244.8 1031.7,244.2 1032.9,243.6 1034.1,243.0 1035.4,242.5 1036.6,242.1 1037.8,241.8 1039.0,241.6 1040.3,241.5 1041.5,241.6 1042.7,241.8 1044.0,242.1 1045.2,242.6 1046.4,243.2 1047.7,243.9 1048.9,244.8 1050.1,245.7 1051.3,246.8 1052.6,247.9 1053.8,249.0 1055.0,250.2 1056.3,251.5 1057.5,252.6 1058.7,253.8 1060.0,254.9 1061.2,255.9 1062.4,256.9 1063.7,257.7 1064.9,258.4 1066.1,258.9 1067.3,259.3 1068.6,259.6 1069.8,259.7 1071.0,259.7 1072.3,259.6 1073.5,259.3 1074.7,258.9 1076.0,258.5 1077.2,257.9 1078.4,257.3 1079.6,256.7 1080.9,256.1 1082.1,255.5 1083.3,255.0 1084.6,254.5 1085.8,254.2 1087.0,253.9 1088.3,253.8 1089.5,253.9 1090.7,254.1 1092.0,254.4 1093.2,255.0 1094.4,255.7 1095.6,256.6 1096.9,257.7 1098.1,258.9 1099.3,260.2 1100.6,261.7 1101.8,263.2 1103.0,264.9 1104.3,266.5 1105.5,268.2 1106.7,269.9 1107.9,271.6 1109.2,273.1 1110.4,274.6 1111.6,276.0 1112.9,277.2 1114.1,278.3 1115.3,279.2 1116.6,279.9 1117.8,280.4 1119.0,280.7 1120.3,280.9 1121.5,280.9 1122.7,280.7 1123.9,280.4 1125.2,279.9 1126.4,279.4 1127.6,278.8 1128.9,278.1 1130.1,277.5 1131.3,276.9 1132.6,276.3 1133.8,275.8 1135.0,275.5 1136.2,275.4 1137.5,275.4 1138.7,275.6 1139.9,276.1 1141.2,276.8 1142.4,277.8 1143.6,279.0 1144.9,280.5 1146.1,282.2 1147.3,284.1 1148.6,286.3 1149.8,288.6 1151.0,291.1 1152.2,293.7 1153.5,296.4 1154.7,299.1 1155.9,301.8 1157.2,304.5 1158.4,307.1 1159.6,309.5 1160.9,311.8 1162.1,313.9 1163.3,315.7 1164.5,317.3 1165.8,318.6 1167.0,319.5 1168.2,320.2 1169.5,320.6 1170.7,320.7 1171.9,320.6 1173.2,320.1 1174.4,319.5 1175.6,318.7 1176.8,317.7 1178.1,316.7 1179.3,315.6 1180.5,314.6 1181.8,313.7 1183.0,312.9 1184.2,312.3 1185.5,312.0 1186.7,312.1 1187.9,312.5 1189.2,313.3 1190.4,314.6 1191.6,316.4 1192.8,318.7 1194.1,321.5 1195.3,324.8 1196.5,328.6 1197.8,332.9 1199.0,337.6 1200.2,342.7 1201.5,348.1 1202.7,353.8 1203.9,359.6 1205.1,365.4 1206.4,371.3 1207.6,377.0 1208.8,382.4 1210.1,387.5 1211.3,392.2 1212.5,396.2 1213.8,399.5 1215.0,402.1 1216.2,403.8 1217.5,404.4 1218.7,404.1 1219.9,402.6 1221.1,399.9 1222.4,396.1 1223.6,391.0 1224.8,384.6 1226.1,377.1 1227.3,368.4 1228.5,358.5 1229.8,347.5 1231.0,335.5 1232.2,322.6 1233.4,308.9 1234.7,294.5 1235.9,279.5 1237.1,264.0 1238.4,248.3 1239.6,232.5 1240.8,216.6 1242.1,200.9 1243.3,185.4 1244.5,170.4 1245.8,156.0 1247.0,142.3 1248.2,129.4 1249.4,117.4 1250.7,106.4 1251.9,96.5 1253.1,87.8 1254.4,80.3 1255.6,73.9 1256.8,68.8 1258.1,65.0 1259.3,62.3 1260.5,60.8 1261.7,60.5 1263.0,61.1 1264.2,62.8 1265.4,65.4 1266.7,68.7 1267.9,72.7 1269.1,77.4 1270.4,82.5 1271.6,87.9 1272.8,93.6 1274.1,99.5 1275.3,105.3 1276.5,111.1 1277.7,116.8 1279.0,122.2 1280.2,127.3 1281.4,132.0 1282.7,136.3 1283.9,140.1 1285.1,143.4 1286.4,146.2 1287.6,148.5 1288.8,150.3 1290.0,151.6 1291.3,152.4 1292.5,152.8 1293.7,152.9 1295.0,152.6 1296.2,152.0 1297.4,151.2 1298.7,150.3 1299.9,149.3 1301.1,148.2 1302.4,147.2 1303.6,146.2 1304.8,145.4 1306.0,144.8 1307.3,144.3 1308.5,144.2 1309.7,144.3 1311.0,144.7 1312.2,145.4 1313.4,146.3 1314.7,147.6 1315.9,149.2 1317.1,151.0 1318.3,153.1 1319.6,155.4 1320.8,157.8 1322.0,160.4 1323.3,163.1 1324.5,165.8 1325.7,168.5 1327.0,171.2 1328.2,173.8 1329.4,176.3 1330.6,178.6 1331.9,180.8 1333.1,182.7 1334.3,184.4 1335.6,185.9 1336.8,187.1 1338.0,188.1 1339.3,188.8 1340.5,189.3 1341.7,189.5 1343.0,189.5 1344.2,189.4 1345.4,189.1 1346.6,188.6 1347.9,188.0 1349.1,187.4 1350.3,186.8 1351.6,186.1 1352.8,185.5 1354.0,185.0 1355.3,184.5 1356.5,184.2 1357.7,184.0 1358.9,184.0 1360.2,184.2 1361.4,184.5 1362.6,185.0 1363.9,185.7 1365.1,186.6 1366.3,187.7 1367.6,188.9 1368.8,190.3 1370.0,191.8 1371.3,193.3 1372.5,195.0 1373.7,196.7 1374.9,198.4 1376.2,200.0 1377.4,201.7 1378.6,203.2 1379.9,204.7 1381.1,206.0 1382.3,207.2 1383.6,208.3 1384.8,209.2 1386.0,209.9 1387.2,210.5 1388.5,210.8 1389.7,211.0 1390.9,211.1 1392.2,211.0 1393.4,210.7 1394.6,210.4 1395.9,209.9 1397.1,209.4 1398.3,208.8 1399.6,208.2 1400.8,207.6 1402.0,207.0 1403.2,206.4 1404.5,206.0 1405.7,205.6 1406.9,205.3 1408.2,205.2 1409.4,205.2 1410.6,205.3 1411.9,205.6 1413.1,206.0 1414.3,206.5 1415.5,207.2 1416.8,208.0 1418.0,209.0 1419.2,210.0 1420.5,211.1 1421.7,212.3 1422.9,213.4 1424.2,214.7 1425.4,215.9 1426.6,217.0 1427.9,218.1 1429.1,219.2 1430.3,220.1 1431.5,221.0 1432.8,221.7 1434.0,222.3 1435.2,222.8 1436.5,223.1 1437.7,223.3 1438.9,223.4 1440.2,223.3 1441.4,223.1 1442.6,222.8 1443.8,222.4 1445.1,221.9 1446.3,221.3 1447.5,220.7 1448.8,220.1 1450.0,219.5 1451.2,218.9 1452.5,218.4 1453.7,217.9 1454.9,217.5 1456.2,217.2 1457.4,216.9 1458.6,216.8 1459.8,216.8 1461.1,217.0 1462.3,217.2 1463.5,217.6 1464.8,218.1 1466.0,218.7 1467.2,219.5 1468.5,220.3 1469.7,221.1 1470.9,222.0 1472.1,223.0 1473.4,224.0 1474.6,224.9 1475.8,225.9 1477.1,226.8 1478.3,227.6 1479.5,228.4 1480.8,229.0 1482.0,229.6 1483.2,230.1 1484.4,230.4 1485.7,230.6 1486.9,230.7 1488.1,230.7 1489.4,230.6 1490.6,230.3 1491.8,230.0 1493.1,229.6 1494.3,229.1 1495.5,228.5 1496.8,227.9 1498.0,227.3 1499.2,226.7 1500.4,226.1 1501.7,225.5 1502.9,225.0 1504.1,224.6 1505.4,224.3 1506.6,224.0 1507.8,223.9 1509.1,223.8 1510.3,223.9 1511.5,224.1 1512.7,224.4 1514.0,224.8 1515.2,225.3 1516.4,226.0 1517.7,226.6 1518.9,227.4 1520.1,228.2 1521.4,229.1 1522.6,229.9 1523.8,230.8 1525.1,231.7 1526.3,232.5 1527.5,233.2 1528.7,233.9 1530.0,234.5 1531.2,235.0 1532.4,235.4 1533.7,235.7 1534.9,235.9 1536.1,236.0 1537.4,235.9 1538.6,235.8 1539.8,235.5 1541.0,235.2 1542.3,234.7 1543.5,234.2 1544.7,233.7 1546.0,233.1 1547.2,232.4"/>
<polyline stroke="#000" stroke-linejoin="bevel" points="932.0,236.1 933.2,236.1 934.5,236.2 935.7,236.2 936.9,236.3 938.2,236.4 939.4,236.4 940.6,236.5 941.8,236.6 943.1,236.6 944.3,236.7 945.5,236.8 946.8,236.8 948.0,236.9 949.2,237.0 950.5,237.1 951.7,237.1 952.9,237.2 954.1,237.3 955.4,237.4 956.6,237.4 957.8,237.5 959.1,237.6 960.3,237.7 961.5,237.8 962.8,237.9 964.0,237.9 965.2,238.0 966.5,238.1 967.7,238.2 968.9,238.3 970.1,238.4 971.4,238.5 972.6,238.6 973.8,238.7 975.1,238.8 976.3,238.9 977.5,239.0 978.8,239.1 980.0,239.2 981.2,239.3 982.4,239.4 983.7,239.5 984.9,239.7 986.1,239.8 987.4,239.9 988.6,240.0 989.8,240.1 991.1,240.3 992.3,240.4 993.5,240.5 994.8,240.6 996.0,240.8 997.2,240.9 998.4,241.0 999.7,241.2 1000.9,241.3 1002.1,241.5 1003.4,241.6 1004.6,241.8 1005.8,241.9 1007.1,242.1 1008.3,242.2 1009.5,242.4 1010.7,242.5 1012.0,242.7 1013.2,242.9 1014.4,243.0 1015.7,243.2 1016.9,243.4 1018.1,243.5 1019.4,243.7 1020.6,243.9 1021.8,244.1 1023.0,244.3 1024.3,244.5 1025.5,244.7 1026.7,244.9 1028.0,245.1 1029.2,245.3 1030.4,245.5 1031.7,245.7 1032.9,245.9 1034.1,246.1 1035.4,246.3 1036.6,246.6 1037.8,246.8 1039.0,247.0 1040.3,247.2 1041.5,247.5 1042.7,247.7 1044.0,248.0 1045.2,248.2 1046.4,248.5 1047.7,248.7 1048.9,249.0 1050.1,249.3 1051.3,249.5 1052.6,249.8 1053.8,250.1 1055.0,250.4 1056.3,250.7 1057.5,251.0 1058.7,251.3 1060.0,251.6 1061.2,251.9 1062.4,252.2 1063.7,252.5 1064.9,252.8 1066.1,253.2 1067.3,253.5 1068.6,253.8 1069.8,254.2 1071.0,254.5 1072.3,254.9 1073.5,255.2 1074.7,255.6 1076.0,256.0 1077.2,256.4 1078.4,256.7 1079.6,257.1 1080.9,257.5 1082.1,257.9 1083.3,258.4 1084.6,258.8 1085.8,259.2 1087.0,259.6 1088.3,260.1 1089.5,260.5 1090.7,261.0 1092.0,261.4 1093.2,261.9 1094.4,262.4 1095.6,262.9 1096.9,263.3 1098.1,263.8 1099.3,264.3 1100.6,264.9 1101.8,265.4 1103.0,265.9 1104.3,266.5 1105.5,267.0 1106.7,267.6 1107.9,268.1 1109.2,268.7 1110.4,269.3 1111.6,269.9 1112.9,270.5 1114.1,271.1 1115.3,271.7 1116.6,272.4 1117.8,273.0 1119.0,273.7 1120.3,274.3 1121.5,275.0 1122.7,275.7 1123.9,276.4 1125.2,277.1 1126.4,277.8 1127.6,278.5 1128.9,279.3 1130.1,280.0 1131.3,280.8 1132.6,281.6 1133.8,282.4 1135.0,283.2 1136.2,284.0 1137.5,284.8 1138.7,285.7 1139.9,286.5 1141.2,287.4 1142.4,288.3 1143.6,289.2 1144.9,290.1 1146.1,291.0 1147.3,292.0 1148.6,292.9 1149.8,293.9 1151.0,294.9 1152.2,295.9 1153.5,296.9 1154.7,298.0 1155.9,299.0 1157.2,300.1 1158.4,301.2 1159.6,302.3 1160.9,303.4 1162.1,304.6 1163.3,305.7 1164.5,306.9 1165.8,308.1 1167.0,309.3 1168.2,310.6 1169.5,311.8 1170.7,313.1 1171.9,314.4 1173.2,315.8 1174.4,317.1 1175.6,318.5 1176.8,319.8 1178.1,321.3 1179.3,322.7 1180.5,324.1 1181.8,325.6 1183.0,327.1 1184.2,328.7 1185.5,330.2 1186.7,331.8 1187.9,333.4 1189.2,335.0 1190.4,336.7 1191.6,338.3 1192.8,340.1 1194.1,341.8 1195.3,343.6 1196.5,345.3 1197.8,347.2 1199.0,349.0 1200.2,350.9 1201.5,352.8 1202.7,354.7 1203.9,356.7 1205.1,358.7 1206.4,360.8 1207.6,362.8 1208.8,364.9 1210.1,367.1 1211.3,369.2 1212.5,371.4 1213.8,373.7 1215.0,376.0 1216.2,378.3 1217.5,380.6 1218.7,383.0 1219.9,385.5 1221.1,387.9 1222.4,390.4 1223.6,393.0 1224.8,395.6 1226.1,398.2 1227.3,400.9 1228.5,403.6 1229.8,406.3 1231.0,409.2 1232.2,412.0 1233.4,414.9 1234.7,417.8 1235.9,420.8 1237.1,423.9 1238.4,427.0 1239.4,430.1 1239.8,34.8 1240.8,37.9 1242.1,41.0 1243.3,44.1 1244.5,47.1 1245.8,50.0 1247.0,52.9 1248.2,55.7 1249.4,58.6 1250.7,61.3 1251.9,64.0 1253.1,66.7 1254.4,69.3 1255.6,71.9 1256.8,74.5 1258.1,77.0 1259.3,79.4 1260.5,81.9 1261.7,84.3 1263.0,86.6 1264.2,88.9 1265.4,91.2 1266.7,93.5 1267.9,95.7 1269.1,97.8 1270.4,100.0 1271.6,102.1 1272.8,104.1 1274.1,106.2 1275.3,108.2 1276.5,110.2 1277.7,112.1 1279.0,114.0 1280.2,115.9 1281.4,117.7 1282.7,119.6 1283.9,121.3 1285.1,123.1 1286.4,124.8 1287.6,126.6 1288.8,128.2 1290.0,129.9 1291.3,131.5 1292.5,133.1 1293.7,134.7 1295.0,136.2 1296.2,137.8 1297.4,139.3 1298.7,140.8 1299.9,142.2 1301.1,143.6 1302.4,145.1 1303.6,146.4 1304.8,147.8 1306.0,149.1 1307.3,150.5 1308.5,151.8 1309.7,153.1 1311.0,154.3 1312.2,155.6 1313.4,156.8 1314.7,158.0 1315.9,159.2 1317.1,160.3 1318.3,161.5 1319.6,162.6 1320.8,163.7 1322.0,164.8 1323.3,165.9 1324.5,166.9 1325.7,168.0 1327.0,169.0 1328.2,170.0 1329.4,171.0 1330.6,172.0 1331.9,172.9 1333.1,173.9 1334.3,174.8 1335.6,175.7 1336.8,176.6 1338.0,177.5 1339.3,178.4 1340.5,179.2 1341.7,180.1 1343.0,180.9 1344.2,181.7 1345.4,182.5 1346.6,183.3 1347.9,184.1 1349.1,184.9 1350.3,185.6 1351.6,186.4 1352.8,187.1 1354.0,187.8 1355.3,188.5 1356.5,189.2 1357.7,189.9 1358.9,190.6 1360.2,191.2 1361.4,191.9 1362.6,192.5 1363.9,193.2 1365.1,193.8 1366.3,194.4 1367.6,195.0 1368.8,195.6 1370.0,196.2 1371.3,196.8 1372.5,197.3 1373.7,197.9 1374.9,198.4 1376.2,199.0 1377.4,199.5 1378.6,200.0 1379.9,200.6 1381.1,201.1 1382.3,201.6 1383.6,202.0 1384.8,202.5 1386.0,203.0 1387.2,203.5 1388.5,203.9 1389.7,204.4 1390.9,204.8 1392.2,205.3 1393.4,205.7 1394.6,206.1 1395.9,206.5 1397.1,207.0 1398.3,207.4 1399.6,207.8 1400.8,208.2 1402.0,208.5 1403.2,208.9 1404.5,209.3 1405.7,209.7 1406.9,210.0 1408.2,210.4 1409.4,210.7 1410.6,211.1 1411.9,211.4 1413.1,211.7 1414.3,212.1 1415.5,212.4 1416.8,212.7 1418.0,213.0 1419.2,213.3 1420.5,213.6 1421.7,213.9 1422.9,214.2 1424.2,214.5 1425.4,214.8 1426.6,215.1 1427.9,215.4 1429.1,215.6 1430.3,215.9 1431.5,216.2 1432.8,216.4 1434.0,216.7 1435.2,216.9 1436.5,217.2 1437.7,217.4 1438.9,217.7 1440.2,217.9 1441.4,218.1 1442.6,218.3 1443.8,218.6 1445.1,218.8 1446.3,219.0 1447.5,219.2 1448.8,219.4 1450.0,219.6 1451.2,219.8 1452.5,220.0 1453.7,220.2 1454.9,220.4 1456.2,220.6 1457.4,220.8 1458.6,221.0 1459.8,221.2 1461.1,221.4 1462.3,221.5 1463.5,221.7 1464.8,221.9 1466.0,222.0 1467.2,222.2 1468.5,222.4 1469.7,222.5 1470.9,222.7 1472.1,222.8 1473.4,223.0 1474.6,223.1 1475.8,223.3 1477.1,223.4 1478.3,223.6 1479.5,223.7 1480.8,223.9 1482.0,224.0 1483.2,224.1 1484.4,224.3 1485.7,224.4 1486.9,224.5 1488.1,224.6 1489.4,224.8 1490.6,224.9 1491.8,225.0 1493.1,225.1 1494.3,225.2 1495.5,225.4 1496.8,225.5 1498.0,225.6 1499.2,225.7 1500.4,225.8 1501.7,225.9 1502.9,226.0 1504.1,226.1 1505.4,226.2 1506.6,226.3 1507.8,226.4 1509.1,226.5 1510.3,226.6 1511.5,226.7 1512.7,226.8 1514.0,226.9 1515.2,227.0 1516.4,227.0 1517.7,227.1 1518.9,227.2 1520.1,227.3 1521.4,227.4 1522.6,227.5 1523.8,227.5 1525.1,227.6 1526.3,227.7 1527.5,227.8 1528.7,227.8 1530.0,227.9 1531.2,228.0 1532.4,228.1 1533.7,228.1 1534.9,228.2 1536.1,228.3 1537.4,228.3 1538.6,228.4 1539.8,228.5 1541.0,228.5 1542.3,228.6 1543.5,228.7 1544.7,228.7 1546.0,228.8 1547.2,228.8"/>
</g>
<g stroke="#000" stroke-width="3.3" fill="none">
<line x1="993.5" y1="454.8" x2="993.5" y2="447.5"/>
<line x1="993.5" y1="10.1" x2="993.5" y2="17.4"/>
<line x1="1116.6" y1="454.8" x2="1116.6" y2="447.5"/>
<line x1="1116.6" y1="10.1" x2="1116.6" y2="17.4"/>
<line x1="1239.6" y1="454.8" x2="1239.6" y2="447.5"/>
<line x1="1239.6" y1="10.1" x2="1239.6" y2="17.4"/>
<line x1="1362.6" y1="454.8" x2="1362.6" y2="447.5"/>
<line x1="1362.6" y1="10.1" x2="1362.6" y2="17.4"/>
<line x1="1485.7" y1="454.8" x2="1485.7" y2="447.5"/>
<line x1="1485.7" y1="10.1" x2="1485.7" y2="17.4"/>
<line x1="932.0" y1="430.1" x2="939.3" y2="430.1"/>
<line x1="1547.2" y1="430.1" x2="1539.9" y2="430.1"/>
<line x1="932.0" y1="380.7" x2="939.3" y2="380.7"/>
<line x1="1547.2" y1="380.7" x2="1539.9" y2="380.7"/>
<line x1="932.0" y1="331.3" x2="939.3" y2="331.3"/>
<line x1="1547.2" y1="331.3" x2="1539.9" y2="331.3"/>
<line x1="932.0" y1="281.9" x2="939.3" y2="281.9"/>
<line x1="1547.2" y1="281.9" x2="1539.9" y2="281.9"/>
<line x1="932.0" y1="232.5" x2="939.3" y2="232.5"/>
<line x1="1547.2" y1="232.5" x2="1539.9" y2="232.5"/>
<line x1="932.0" y1="183.0" x2="939.3" y2="183.0"/>
<line x1="1547.2" y1="183.0" x2="1539.9" y2="183.0"/>
<line x1="932.0" y1="133.6" x2="939.3" y2="133.6"/>
<line x1="1547.2" y1="133.6" x2="1539.9" y2="133.6"/>
<line x1="932.0" y1="84.2" x2="939.3" y2="84.2"/>
<line x1="1547.2" y1="84.2" x2="1539.9" y2="84.2"/>
<line x1="932.0" y1="34.8" x2="939.3" y2="34.8"/>
<line x1="1547.2" y1="34.8" x2="1539.9" y2="34.8"/>
</g>
<rect x="932.0" y="10.1" width="615.2" height="444.7" fill="none" stroke="#000" stroke-width="5.6"/>
<text class="tk" transform="translate(993.5,492.2) scale(1,1.075)" text-anchor="middle">-4</text>
<text class="tk" transform="translate(1116.6,492.2) scale(1,1.075)" text-anchor="middle">-2</text>
<text class="tk" transform="translate(1243.5,492.2) scale(1,1.075)" text-anchor="middle">0</text>
<text class="tk" transform="translate(1366.5,492.2) scale(1,1.075)" text-anchor="middle">2</text>
<text class="tk" transform="translate(1489.6,492.2) scale(1,1.075)" text-anchor="middle">4</text>
<text class="tk" transform="translate(915.1,439.8) scale(1,1.075)" text-anchor="end">-0.4</text>
<text class="tk" transform="translate(915.1,390.4) scale(1,1.075)" text-anchor="end">-0.3</text>
<text class="tk" transform="translate(915.1,341.0) scale(1,1.075)" text-anchor="end">-0.2</text>
<text class="tk" transform="translate(915.1,291.6) scale(1,1.075)" text-anchor="end">-0.1</text>
<text class="tk" transform="translate(915.1,242.2) scale(1,1.075)" text-anchor="end">0.0</text>
<text class="tk" transform="translate(915.1,192.7) scale(1,1.075)" text-anchor="end">0.1</text>
<text class="tk" transform="translate(915.1,143.3) scale(1,1.075)" text-anchor="end">0.2</text>
<text class="tk" transform="translate(915.1,93.9) scale(1,1.075)" text-anchor="end">0.3</text>
<text class="tk" transform="translate(915.1,44.5) scale(1,1.075)" text-anchor="end">0.4</text>
<text class="xl" x="1239.9" y="533.5" text-anchor="middle">x</text>
<text class="yl" transform="translate(829.8,260.0) rotate(-90)" text-anchor="middle">Imaginary part of small-component eigenfunction</text>
<text class="tt" x="962.9" y="62.2">(b) Small component</text>
<text class="lg" x="1457.5" y="359.0" text-anchor="end">L = 10, <tspan class="sym lam">Λ</tspan>=2</text>
<line x1="1468.0" y1="352.8" x2="1518.5" y2="352.8" stroke="#0000ff" stroke-width="3.2" stroke-dasharray="1.5 1.85 7 1.85 1.5 1.8"/>
<text class="lg" x="1457.5" y="376.8" text-anchor="end">L = 10, <tspan class="sym lam">Λ</tspan>=4</text>
<line x1="1468.0" y1="370.6" x2="1518.5" y2="370.6" stroke="#006400" stroke-width="3.2" stroke-dasharray="7.1 2 1.4 1.9"/>
<text class="lg" x="1457.5" y="394.6" text-anchor="end">L = 10, <tspan class="sym lam">Λ</tspan>=6</text>
<line x1="1468.0" y1="388.4" x2="1518.5" y2="388.4" stroke="#ffa500" stroke-width="3.2" stroke-dasharray="2.8 2.8"/>
<text class="lg" x="1457.5" y="412.3" text-anchor="end">L = 10, <tspan class="sym lam">Λ</tspan>=8</text>
<line x1="1468.0" y1="406.1" x2="1518.5" y2="406.1" stroke="#ff0000" stroke-width="3.2" stroke-dasharray="1.4 1.47"/>
<text class="lg" x="1457.5" y="430.1" text-anchor="end">Exact (L <tspan class="ar" dy="2.9">→</tspan><tspan class="sym" dx="1" dy="-2.9"> ∞</tspan>, <tspan class="sym lam" dx="-0.2">Λ</tspan><tspan class="ar" dx="-4.5" dy="2.9"> →</tspan><tspan class="sym" dx="0.4" dy="-2.9"> ∞</tspan>)</text>
<line x1="1468.0" y1="423.9" x2="1518.5" y2="423.9" stroke="#000" stroke-width="3.2"/>
</svg></body></html>
